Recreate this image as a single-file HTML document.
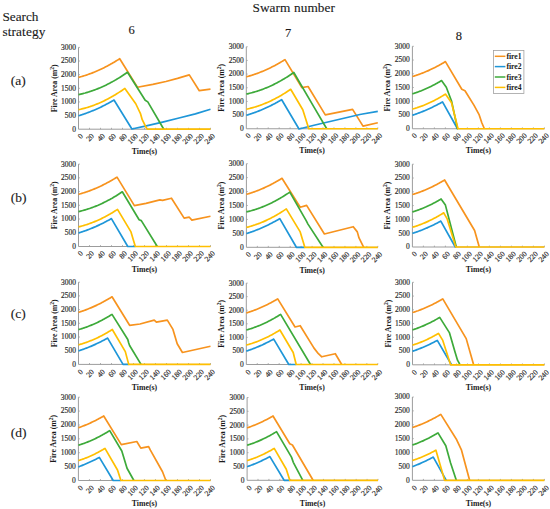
<!DOCTYPE html><html><head><meta charset="utf-8"><style>html,body{margin:0;padding:0;background:#fff;}svg{display:block;}text{font-family:"Liberation Serif", serif;}</style></head><body>
<svg width="550" height="509" viewBox="0 0 550 509">
<rect width="550" height="509" fill="#fff"/>
<text x="252.4" y="12.4" font-size="13.3" textLength="82.6" fill="#1a1a1a" stroke="#1a1a1a" stroke-width="0.12">Swarm number</text>
<text x="2.5" y="20.6" font-size="13.3" textLength="36" fill="#1a1a1a" stroke="#1a1a1a" stroke-width="0.12">Search</text>
<text x="2.5" y="35.5" font-size="13.3" textLength="42.8" fill="#1a1a1a" stroke="#1a1a1a" stroke-width="0.12">strategy</text>
<text x="131.7" y="34.1" font-size="12.5" text-anchor="middle" fill="#1a1a1a" stroke="#1a1a1a" stroke-width="0.12">6</text>
<text x="288.0" y="37.3" font-size="12.5" text-anchor="middle" fill="#1a1a1a" stroke="#1a1a1a" stroke-width="0.12">7</text>
<text x="458.9" y="40.4" font-size="12.5" text-anchor="middle" fill="#1a1a1a" stroke="#1a1a1a" stroke-width="0.12">8</text>
<text x="10.7" y="84.8" font-size="13.5" fill="#1a1a1a" stroke="#1a1a1a" stroke-width="0.12">(a)</text>
<text x="10.7" y="201.8" font-size="13.5" fill="#1a1a1a" stroke="#1a1a1a" stroke-width="0.12">(b)</text>
<text x="10.7" y="317.8" font-size="13.5" fill="#1a1a1a" stroke="#1a1a1a" stroke-width="0.12">(c)</text>
<text x="10.7" y="436.6" font-size="13.5" fill="#1a1a1a" stroke="#1a1a1a" stroke-width="0.12">(d)</text>
<path d="M78.50 47.40V129.20H210.50" fill="none" stroke="#9c9c9c" stroke-width="1"/>
<path d="M78.50 115.57h1.4 M78.50 101.93h1.4 M78.50 88.30h1.4 M78.50 74.67h1.4 M78.50 61.03h1.4 M78.50 47.40h1.4 M89.50 129.20v-1.4 M100.50 129.20v-1.4 M111.50 129.20v-1.4 M122.50 129.20v-1.4 M133.50 129.20v-1.4 M144.50 129.20v-1.4 M155.50 129.20v-1.4 M166.50 129.20v-1.4 M177.50 129.20v-1.4 M188.50 129.20v-1.4 M199.50 129.20v-1.4 M210.50 129.20v-1.4" fill="none" stroke="#9c9c9c" stroke-width="0.8"/>
<text x="75.90" y="131.60" font-size="7.5" fill="#2e2e2e" stroke="#2e2e2e" stroke-width="0.18" text-anchor="end">0</text>
<text x="75.90" y="117.97" font-size="7.5" fill="#2e2e2e" stroke="#2e2e2e" stroke-width="0.18" text-anchor="end">500</text>
<text x="75.90" y="104.33" font-size="7.5" fill="#2e2e2e" stroke="#2e2e2e" stroke-width="0.18" text-anchor="end">1000</text>
<text x="75.90" y="90.70" font-size="7.5" fill="#2e2e2e" stroke="#2e2e2e" stroke-width="0.18" text-anchor="end">1500</text>
<text x="75.90" y="77.07" font-size="7.5" fill="#2e2e2e" stroke="#2e2e2e" stroke-width="0.18" text-anchor="end">2000</text>
<text x="75.90" y="63.43" font-size="7.5" fill="#2e2e2e" stroke="#2e2e2e" stroke-width="0.18" text-anchor="end">2500</text>
<text x="75.90" y="49.80" font-size="7.5" fill="#2e2e2e" stroke="#2e2e2e" stroke-width="0.18" text-anchor="end">3000</text>
<text transform="translate(81.70 134.80) rotate(-45)" font-size="7.5" fill="#2e2e2e" stroke="#2e2e2e" stroke-width="0.18" text-anchor="end" dominant-baseline="central">0</text>
<text transform="translate(92.70 134.80) rotate(-45)" font-size="7.5" fill="#2e2e2e" stroke="#2e2e2e" stroke-width="0.18" text-anchor="end" dominant-baseline="central">20</text>
<text transform="translate(103.70 134.80) rotate(-45)" font-size="7.5" fill="#2e2e2e" stroke="#2e2e2e" stroke-width="0.18" text-anchor="end" dominant-baseline="central">40</text>
<text transform="translate(114.70 134.80) rotate(-45)" font-size="7.5" fill="#2e2e2e" stroke="#2e2e2e" stroke-width="0.18" text-anchor="end" dominant-baseline="central">60</text>
<text transform="translate(125.70 134.80) rotate(-45)" font-size="7.5" fill="#2e2e2e" stroke="#2e2e2e" stroke-width="0.18" text-anchor="end" dominant-baseline="central">80</text>
<text transform="translate(136.70 134.80) rotate(-45)" font-size="7.5" fill="#2e2e2e" stroke="#2e2e2e" stroke-width="0.18" text-anchor="end" dominant-baseline="central">100</text>
<text transform="translate(147.70 134.80) rotate(-45)" font-size="7.5" fill="#2e2e2e" stroke="#2e2e2e" stroke-width="0.18" text-anchor="end" dominant-baseline="central">120</text>
<text transform="translate(158.70 134.80) rotate(-45)" font-size="7.5" fill="#2e2e2e" stroke="#2e2e2e" stroke-width="0.18" text-anchor="end" dominant-baseline="central">140</text>
<text transform="translate(169.70 134.80) rotate(-45)" font-size="7.5" fill="#2e2e2e" stroke="#2e2e2e" stroke-width="0.18" text-anchor="end" dominant-baseline="central">160</text>
<text transform="translate(180.70 134.80) rotate(-45)" font-size="7.5" fill="#2e2e2e" stroke="#2e2e2e" stroke-width="0.18" text-anchor="end" dominant-baseline="central">180</text>
<text transform="translate(191.70 134.80) rotate(-45)" font-size="7.5" fill="#2e2e2e" stroke="#2e2e2e" stroke-width="0.18" text-anchor="end" dominant-baseline="central">200</text>
<text transform="translate(202.70 134.80) rotate(-45)" font-size="7.5" fill="#2e2e2e" stroke="#2e2e2e" stroke-width="0.18" text-anchor="end" dominant-baseline="central">220</text>
<text transform="translate(213.70 134.80) rotate(-45)" font-size="7.5" fill="#2e2e2e" stroke="#2e2e2e" stroke-width="0.18" text-anchor="end" dominant-baseline="central">240</text>
<text x="144.50" y="153.70" font-size="7.8" font-weight="bold" text-anchor="middle" fill="#1a1a1a">Time(s)</text>
<text transform="translate(56.50 88.30) rotate(-90)" font-size="7.8" font-weight="bold" text-anchor="middle" fill="#1a1a1a">Fire Area (m<tspan font-size="5.6" dy="-3">2</tspan><tspan dy="3">)</tspan></text>
<path d="M78.50 77.39 L79.61 77.10 L80.73 76.79 L81.84 76.47 L82.96 76.14 L84.07 75.80 L85.18 75.44 L86.30 75.08 L87.41 74.70 L88.52 74.31 L89.64 73.91 L90.75 73.50 L91.87 73.08 L92.98 72.64 L94.09 72.19 L95.21 71.74 L96.32 71.27 L97.43 70.78 L98.55 70.29 L99.66 69.79 L100.78 69.27 L101.89 68.74 L103.00 68.20 L104.12 67.65 L105.23 67.09 L106.34 66.51 L107.46 65.93 L108.57 65.33 L109.69 64.72 L110.80 64.10 L111.91 63.46 L113.03 62.82 L114.14 62.16 L115.25 61.49 L116.37 60.81 L117.48 60.12 L118.60 59.42 L119.71 58.71 L137.41 87.27 L152.80 84.34 L165.88 81.47 L177.53 78.41 L189.29 74.91 L199.29 90.71 L210.50 89.21" fill="none" stroke="#F7931E" stroke-width="1.7" stroke-linejoin="round"/>
<path d="M78.50 115.78 L79.61 115.45 L80.72 115.10 L81.83 114.74 L82.94 114.38 L84.05 114.00 L85.16 113.61 L86.26 113.22 L87.37 112.81 L88.48 112.39 L89.59 111.97 L90.70 111.53 L91.81 111.08 L92.92 110.63 L94.03 110.16 L95.14 109.68 L96.25 109.20 L97.36 108.70 L98.47 108.20 L99.57 107.68 L100.68 107.15 L101.79 106.62 L102.90 106.07 L104.01 105.51 L105.12 104.95 L106.23 104.37 L107.34 103.78 L108.45 103.19 L109.56 102.58 L110.67 101.97 L111.78 101.34 L112.89 100.70 L113.99 100.06 L131.91 128.97 L146.31 125.91 L162.58 122.11 L179.01 118.01 L195.39 113.91 L210.50 109.21" fill="none" stroke="#1E96D8" stroke-width="1.7" stroke-linejoin="round"/>
<path d="M78.50 94.57 L79.61 94.34 L80.73 94.09 L81.84 93.83 L82.96 93.56 L84.07 93.27 L85.18 92.98 L86.30 92.66 L87.41 92.34 L88.53 92.01 L89.64 91.66 L90.75 91.29 L91.87 90.92 L92.98 90.53 L94.10 90.13 L95.21 89.72 L96.32 89.30 L97.44 88.86 L98.55 88.41 L99.67 87.94 L100.78 87.47 L101.89 86.98 L103.01 86.48 L104.12 85.96 L105.24 85.43 L106.35 84.89 L107.46 84.34 L108.58 83.77 L109.69 83.20 L110.80 82.61 L111.92 82.00 L113.03 81.38 L114.15 80.76 L115.26 80.11 L116.37 79.46 L117.49 78.79 L118.60 78.11 L119.72 77.42 L120.83 76.71 L121.94 75.99 L123.06 75.26 L124.17 74.52 L125.29 73.76 L126.40 72.99 L127.51 72.21 L145.21 100.19 L147.79 101.89 L163.79 129.20" fill="none" stroke="#3DAA3A" stroke-width="1.7" stroke-linejoin="round"/>
<path d="M78.50 109.70 L79.60 109.47 L80.71 109.22 L81.81 108.95 L82.92 108.68 L84.02 108.39 L85.13 108.08 L86.23 107.77 L87.33 107.44 L88.44 107.09 L89.54 106.74 L90.65 106.37 L91.75 105.99 L92.85 105.59 L93.96 105.18 L95.06 104.76 L96.17 104.33 L97.27 103.88 L98.38 103.42 L99.48 102.94 L100.58 102.45 L101.69 101.95 L102.79 101.44 L103.90 100.91 L105.00 100.37 L106.10 99.82 L107.21 99.25 L108.31 98.67 L109.42 98.08 L110.52 97.47 L111.63 96.85 L112.73 96.22 L113.83 95.57 L114.94 94.91 L116.04 94.24 L117.15 93.56 L118.25 92.86 L119.36 92.14 L120.46 91.42 L121.56 90.68 L122.67 89.93 L123.77 89.16 L124.88 88.39 L135.76 103.75 L140.59 113.91 L142.24 119.73 L146.20 127.66 L147.57 129.20 L210.50 129.20" fill="none" stroke="#FFBF00" stroke-width="1.7" stroke-linejoin="round"/>
<path d="M246.30 46.75V128.75H377.80" fill="none" stroke="#9c9c9c" stroke-width="1"/>
<path d="M246.30 115.08h1.4 M246.30 101.42h1.4 M246.30 87.75h1.4 M246.30 74.08h1.4 M246.30 60.42h1.4 M246.30 46.75h1.4 M257.26 128.75v-1.4 M268.22 128.75v-1.4 M279.18 128.75v-1.4 M290.13 128.75v-1.4 M301.09 128.75v-1.4 M312.05 128.75v-1.4 M323.01 128.75v-1.4 M333.97 128.75v-1.4 M344.93 128.75v-1.4 M355.88 128.75v-1.4 M366.84 128.75v-1.4 M377.80 128.75v-1.4" fill="none" stroke="#9c9c9c" stroke-width="0.8"/>
<text x="243.70" y="131.15" font-size="7.5" fill="#2e2e2e" stroke="#2e2e2e" stroke-width="0.18" text-anchor="end">0</text>
<text x="243.70" y="117.48" font-size="7.5" fill="#2e2e2e" stroke="#2e2e2e" stroke-width="0.18" text-anchor="end">500</text>
<text x="243.70" y="103.82" font-size="7.5" fill="#2e2e2e" stroke="#2e2e2e" stroke-width="0.18" text-anchor="end">1000</text>
<text x="243.70" y="90.15" font-size="7.5" fill="#2e2e2e" stroke="#2e2e2e" stroke-width="0.18" text-anchor="end">1500</text>
<text x="243.70" y="76.48" font-size="7.5" fill="#2e2e2e" stroke="#2e2e2e" stroke-width="0.18" text-anchor="end">2000</text>
<text x="243.70" y="62.82" font-size="7.5" fill="#2e2e2e" stroke="#2e2e2e" stroke-width="0.18" text-anchor="end">2500</text>
<text x="243.70" y="49.15" font-size="7.5" fill="#2e2e2e" stroke="#2e2e2e" stroke-width="0.18" text-anchor="end">3000</text>
<text transform="translate(249.50 134.35) rotate(-45)" font-size="7.5" fill="#2e2e2e" stroke="#2e2e2e" stroke-width="0.18" text-anchor="end" dominant-baseline="central">0</text>
<text transform="translate(260.46 134.35) rotate(-45)" font-size="7.5" fill="#2e2e2e" stroke="#2e2e2e" stroke-width="0.18" text-anchor="end" dominant-baseline="central">20</text>
<text transform="translate(271.42 134.35) rotate(-45)" font-size="7.5" fill="#2e2e2e" stroke="#2e2e2e" stroke-width="0.18" text-anchor="end" dominant-baseline="central">40</text>
<text transform="translate(282.38 134.35) rotate(-45)" font-size="7.5" fill="#2e2e2e" stroke="#2e2e2e" stroke-width="0.18" text-anchor="end" dominant-baseline="central">60</text>
<text transform="translate(293.33 134.35) rotate(-45)" font-size="7.5" fill="#2e2e2e" stroke="#2e2e2e" stroke-width="0.18" text-anchor="end" dominant-baseline="central">80</text>
<text transform="translate(304.29 134.35) rotate(-45)" font-size="7.5" fill="#2e2e2e" stroke="#2e2e2e" stroke-width="0.18" text-anchor="end" dominant-baseline="central">100</text>
<text transform="translate(315.25 134.35) rotate(-45)" font-size="7.5" fill="#2e2e2e" stroke="#2e2e2e" stroke-width="0.18" text-anchor="end" dominant-baseline="central">120</text>
<text transform="translate(326.21 134.35) rotate(-45)" font-size="7.5" fill="#2e2e2e" stroke="#2e2e2e" stroke-width="0.18" text-anchor="end" dominant-baseline="central">140</text>
<text transform="translate(337.17 134.35) rotate(-45)" font-size="7.5" fill="#2e2e2e" stroke="#2e2e2e" stroke-width="0.18" text-anchor="end" dominant-baseline="central">160</text>
<text transform="translate(348.12 134.35) rotate(-45)" font-size="7.5" fill="#2e2e2e" stroke="#2e2e2e" stroke-width="0.18" text-anchor="end" dominant-baseline="central">180</text>
<text transform="translate(359.08 134.35) rotate(-45)" font-size="7.5" fill="#2e2e2e" stroke="#2e2e2e" stroke-width="0.18" text-anchor="end" dominant-baseline="central">200</text>
<text transform="translate(370.04 134.35) rotate(-45)" font-size="7.5" fill="#2e2e2e" stroke="#2e2e2e" stroke-width="0.18" text-anchor="end" dominant-baseline="central">220</text>
<text transform="translate(381.00 134.35) rotate(-45)" font-size="7.5" fill="#2e2e2e" stroke="#2e2e2e" stroke-width="0.18" text-anchor="end" dominant-baseline="central">240</text>
<text x="312.05" y="153.25" font-size="7.8" font-weight="bold" text-anchor="middle" fill="#1a1a1a">Time(s)</text>
<text transform="translate(224.30 87.75) rotate(-90)" font-size="7.8" font-weight="bold" text-anchor="middle" fill="#1a1a1a">Fire Area (m<tspan font-size="5.6" dy="-3">2</tspan><tspan dy="3">)</tspan></text>
<path d="M246.30 76.82 L247.41 76.52 L248.51 76.22 L249.62 75.90 L250.72 75.57 L251.83 75.23 L252.93 74.87 L254.04 74.51 L255.14 74.13 L256.25 73.75 L257.35 73.35 L258.46 72.94 L259.56 72.51 L260.67 72.08 L261.78 71.63 L262.88 71.18 L263.99 70.71 L265.09 70.23 L266.20 69.74 L267.30 69.23 L268.41 68.72 L269.51 68.19 L270.62 67.65 L271.72 67.11 L272.83 66.54 L273.94 65.97 L275.04 65.39 L276.15 64.79 L277.25 64.18 L278.36 63.57 L279.46 62.93 L280.57 62.29 L281.67 61.64 L282.78 60.97 L283.88 60.30 L284.99 59.61 L301.96 87.70 L308.09 86.50 L325.29 114.90 L352.61 109.40 L363.01 126.10 L377.80 122.71" fill="none" stroke="#F7931E" stroke-width="1.7" stroke-linejoin="round"/>
<path d="M246.30 115.30 L247.41 114.97 L248.51 114.63 L249.62 114.28 L250.73 113.91 L251.83 113.54 L252.94 113.16 L254.04 112.77 L255.15 112.36 L256.26 111.95 L257.36 111.53 L258.47 111.10 L259.58 110.66 L260.68 110.20 L261.79 109.74 L262.90 109.27 L264.00 108.79 L265.11 108.29 L266.21 107.79 L267.32 107.28 L268.43 106.76 L269.53 106.22 L270.64 105.68 L271.75 105.13 L272.85 104.56 L273.96 103.99 L275.07 103.41 L276.17 102.82 L277.28 102.21 L278.39 101.60 L279.49 100.98 L280.60 100.34 L281.70 99.70 L299.01 128.97 L314.01 125.20 L359.89 114.51 L361.20 114.27 L377.80 111.40" fill="none" stroke="#1E96D8" stroke-width="1.7" stroke-linejoin="round"/>
<path d="M246.30 94.04 L247.40 93.80 L248.51 93.55 L249.61 93.29 L250.72 93.02 L251.82 92.74 L252.93 92.44 L254.03 92.13 L255.14 91.80 L256.24 91.47 L257.35 91.12 L258.45 90.76 L259.56 90.38 L260.66 90.00 L261.77 89.60 L262.87 89.19 L263.98 88.76 L265.08 88.32 L266.19 87.87 L267.29 87.41 L268.39 86.94 L269.50 86.45 L270.60 85.95 L271.71 85.44 L272.81 84.91 L273.92 84.37 L275.02 83.82 L276.13 83.26 L277.23 82.68 L278.34 82.09 L279.44 81.49 L280.55 80.87 L281.65 80.25 L282.76 79.61 L283.86 78.95 L284.97 78.29 L286.07 77.61 L287.18 76.92 L288.28 76.21 L289.39 75.50 L290.49 74.77 L291.59 74.03 L292.70 73.27 L293.80 72.51 L314.01 107.11 L326.71 128.75" fill="none" stroke="#3DAA3A" stroke-width="1.7" stroke-linejoin="round"/>
<path d="M246.30 109.21 L247.41 108.97 L248.52 108.72 L249.63 108.46 L250.74 108.18 L251.85 107.89 L252.96 107.59 L254.07 107.27 L255.18 106.94 L256.29 106.60 L257.40 106.24 L258.51 105.87 L259.61 105.49 L260.72 105.09 L261.83 104.68 L262.94 104.26 L264.05 103.82 L265.16 103.37 L266.27 102.91 L267.38 102.43 L268.49 101.94 L269.60 101.43 L270.71 100.92 L271.82 100.38 L272.93 99.84 L274.04 99.28 L275.15 98.71 L276.26 98.12 L277.37 97.52 L278.48 96.91 L279.59 96.29 L280.70 95.65 L281.81 94.99 L282.92 94.33 L284.03 93.65 L285.14 92.96 L286.24 92.25 L287.35 91.53 L288.46 90.80 L289.57 90.05 L290.68 89.29 L302.78 109.70 L308.81 128.75 L377.80 128.75" fill="none" stroke="#FFBF00" stroke-width="1.7" stroke-linejoin="round"/>
<path d="M412.40 46.30V128.75H544.40" fill="none" stroke="#9c9c9c" stroke-width="1"/>
<path d="M412.40 115.01h1.4 M412.40 101.27h1.4 M412.40 87.53h1.4 M412.40 73.78h1.4 M412.40 60.04h1.4 M412.40 46.30h1.4 M423.40 128.75v-1.4 M434.40 128.75v-1.4 M445.40 128.75v-1.4 M456.40 128.75v-1.4 M467.40 128.75v-1.4 M478.40 128.75v-1.4 M489.40 128.75v-1.4 M500.40 128.75v-1.4 M511.40 128.75v-1.4 M522.40 128.75v-1.4 M533.40 128.75v-1.4 M544.40 128.75v-1.4" fill="none" stroke="#9c9c9c" stroke-width="0.8"/>
<text x="409.80" y="131.15" font-size="7.5" fill="#2e2e2e" stroke="#2e2e2e" stroke-width="0.18" text-anchor="end">0</text>
<text x="409.80" y="117.41" font-size="7.5" fill="#2e2e2e" stroke="#2e2e2e" stroke-width="0.18" text-anchor="end">500</text>
<text x="409.80" y="103.67" font-size="7.5" fill="#2e2e2e" stroke="#2e2e2e" stroke-width="0.18" text-anchor="end">1000</text>
<text x="409.80" y="89.93" font-size="7.5" fill="#2e2e2e" stroke="#2e2e2e" stroke-width="0.18" text-anchor="end">1500</text>
<text x="409.80" y="76.18" font-size="7.5" fill="#2e2e2e" stroke="#2e2e2e" stroke-width="0.18" text-anchor="end">2000</text>
<text x="409.80" y="62.44" font-size="7.5" fill="#2e2e2e" stroke="#2e2e2e" stroke-width="0.18" text-anchor="end">2500</text>
<text x="409.80" y="48.70" font-size="7.5" fill="#2e2e2e" stroke="#2e2e2e" stroke-width="0.18" text-anchor="end">3000</text>
<text transform="translate(415.60 134.35) rotate(-45)" font-size="7.5" fill="#2e2e2e" stroke="#2e2e2e" stroke-width="0.18" text-anchor="end" dominant-baseline="central">0</text>
<text transform="translate(426.60 134.35) rotate(-45)" font-size="7.5" fill="#2e2e2e" stroke="#2e2e2e" stroke-width="0.18" text-anchor="end" dominant-baseline="central">20</text>
<text transform="translate(437.60 134.35) rotate(-45)" font-size="7.5" fill="#2e2e2e" stroke="#2e2e2e" stroke-width="0.18" text-anchor="end" dominant-baseline="central">40</text>
<text transform="translate(448.60 134.35) rotate(-45)" font-size="7.5" fill="#2e2e2e" stroke="#2e2e2e" stroke-width="0.18" text-anchor="end" dominant-baseline="central">60</text>
<text transform="translate(459.60 134.35) rotate(-45)" font-size="7.5" fill="#2e2e2e" stroke="#2e2e2e" stroke-width="0.18" text-anchor="end" dominant-baseline="central">80</text>
<text transform="translate(470.60 134.35) rotate(-45)" font-size="7.5" fill="#2e2e2e" stroke="#2e2e2e" stroke-width="0.18" text-anchor="end" dominant-baseline="central">100</text>
<text transform="translate(481.60 134.35) rotate(-45)" font-size="7.5" fill="#2e2e2e" stroke="#2e2e2e" stroke-width="0.18" text-anchor="end" dominant-baseline="central">120</text>
<text transform="translate(492.60 134.35) rotate(-45)" font-size="7.5" fill="#2e2e2e" stroke="#2e2e2e" stroke-width="0.18" text-anchor="end" dominant-baseline="central">140</text>
<text transform="translate(503.60 134.35) rotate(-45)" font-size="7.5" fill="#2e2e2e" stroke="#2e2e2e" stroke-width="0.18" text-anchor="end" dominant-baseline="central">160</text>
<text transform="translate(514.60 134.35) rotate(-45)" font-size="7.5" fill="#2e2e2e" stroke="#2e2e2e" stroke-width="0.18" text-anchor="end" dominant-baseline="central">180</text>
<text transform="translate(525.60 134.35) rotate(-45)" font-size="7.5" fill="#2e2e2e" stroke="#2e2e2e" stroke-width="0.18" text-anchor="end" dominant-baseline="central">200</text>
<text transform="translate(536.60 134.35) rotate(-45)" font-size="7.5" fill="#2e2e2e" stroke="#2e2e2e" stroke-width="0.18" text-anchor="end" dominant-baseline="central">220</text>
<text transform="translate(547.60 134.35) rotate(-45)" font-size="7.5" fill="#2e2e2e" stroke="#2e2e2e" stroke-width="0.18" text-anchor="end" dominant-baseline="central">240</text>
<text x="478.40" y="153.25" font-size="7.8" font-weight="bold" text-anchor="middle" fill="#1a1a1a">Time(s)</text>
<text transform="translate(390.40 87.53) rotate(-90)" font-size="7.8" font-weight="bold" text-anchor="middle" fill="#1a1a1a">Fire Area (m<tspan font-size="5.6" dy="-3">2</tspan><tspan dy="3">)</tspan></text>
<path d="M412.40 76.53 L413.50 76.20 L414.60 75.86 L415.70 75.50 L416.80 75.14 L417.90 74.76 L419.00 74.37 L420.10 73.97 L421.21 73.56 L422.31 73.14 L423.41 72.70 L424.51 72.25 L425.61 71.80 L426.71 71.33 L427.81 70.85 L428.91 70.36 L430.01 69.85 L431.11 69.34 L432.21 68.81 L433.31 68.27 L434.41 67.72 L435.51 67.16 L436.62 66.59 L437.72 66.01 L438.82 65.41 L439.92 64.81 L441.02 64.19 L442.12 63.56 L443.22 62.92 L444.32 62.27 L445.42 61.60 L461.80 89.29 L464.99 90.71 L474.06 105.41 L479.22 114.90 L481.80 122.71 L484.39 128.75" fill="none" stroke="#F7931E" stroke-width="1.7" stroke-linejoin="round"/>
<path d="M412.40 115.23 L413.52 114.87 L414.63 114.49 L415.75 114.11 L416.86 113.72 L417.98 113.32 L419.09 112.90 L420.21 112.48 L421.32 112.05 L422.44 111.61 L423.55 111.15 L424.67 110.69 L425.78 110.21 L426.90 109.73 L428.01 109.24 L429.13 108.73 L430.24 108.22 L431.36 107.69 L432.47 107.16 L433.59 106.61 L434.70 106.06 L435.82 105.49 L436.93 104.92 L438.05 104.33 L439.16 103.74 L440.28 103.13 L441.39 102.51 L442.51 101.89 L457.51 128.75" fill="none" stroke="#1E96D8" stroke-width="1.7" stroke-linejoin="round"/>
<path d="M412.40 93.85 L413.52 93.50 L414.64 93.14 L415.76 92.77 L416.88 92.38 L418.00 91.98 L419.12 91.57 L420.24 91.14 L421.36 90.71 L422.48 90.25 L423.60 89.79 L424.72 89.31 L425.84 88.82 L426.96 88.32 L428.08 87.80 L429.20 87.27 L430.32 86.73 L431.44 86.18 L432.56 85.61 L433.68 85.03 L434.80 84.43 L435.92 83.83 L437.04 83.21 L438.16 82.57 L439.28 81.93 L440.40 81.27 L441.52 80.60 L446.30 87.21 L451.52 101.01 L457.51 128.75 L458.01 128.75" fill="none" stroke="#3DAA3A" stroke-width="1.7" stroke-linejoin="round"/>
<path d="M412.40 109.10 L413.50 108.79 L414.60 108.47 L415.70 108.13 L416.80 107.79 L417.90 107.42 L419.00 107.05 L420.10 106.66 L421.21 106.26 L422.31 105.85 L423.41 105.42 L424.51 104.98 L425.61 104.53 L426.71 104.06 L427.81 103.58 L428.91 103.09 L430.01 102.58 L431.11 102.06 L432.21 101.53 L433.31 100.98 L434.41 100.42 L435.51 99.85 L436.62 99.26 L437.72 98.66 L438.82 98.05 L439.92 97.42 L441.02 96.79 L442.12 96.13 L443.22 95.47 L444.32 94.79 L445.42 94.10 L451.52 102.79 L458.01 128.75 L544.40 128.75" fill="none" stroke="#FFBF00" stroke-width="1.7" stroke-linejoin="round"/>
<path d="M78.50 164.10V246.50H210.50" fill="none" stroke="#9c9c9c" stroke-width="1"/>
<path d="M78.50 232.77h1.4 M78.50 219.03h1.4 M78.50 205.30h1.4 M78.50 191.57h1.4 M78.50 177.83h1.4 M78.50 164.10h1.4 M89.50 246.50v-1.4 M100.50 246.50v-1.4 M111.50 246.50v-1.4 M122.50 246.50v-1.4 M133.50 246.50v-1.4 M144.50 246.50v-1.4 M155.50 246.50v-1.4 M166.50 246.50v-1.4 M177.50 246.50v-1.4 M188.50 246.50v-1.4 M199.50 246.50v-1.4 M210.50 246.50v-1.4" fill="none" stroke="#9c9c9c" stroke-width="0.8"/>
<text x="75.90" y="248.90" font-size="7.5" fill="#2e2e2e" stroke="#2e2e2e" stroke-width="0.18" text-anchor="end">0</text>
<text x="75.90" y="235.17" font-size="7.5" fill="#2e2e2e" stroke="#2e2e2e" stroke-width="0.18" text-anchor="end">500</text>
<text x="75.90" y="221.43" font-size="7.5" fill="#2e2e2e" stroke="#2e2e2e" stroke-width="0.18" text-anchor="end">1000</text>
<text x="75.90" y="207.70" font-size="7.5" fill="#2e2e2e" stroke="#2e2e2e" stroke-width="0.18" text-anchor="end">1500</text>
<text x="75.90" y="193.97" font-size="7.5" fill="#2e2e2e" stroke="#2e2e2e" stroke-width="0.18" text-anchor="end">2000</text>
<text x="75.90" y="180.23" font-size="7.5" fill="#2e2e2e" stroke="#2e2e2e" stroke-width="0.18" text-anchor="end">2500</text>
<text x="75.90" y="166.50" font-size="7.5" fill="#2e2e2e" stroke="#2e2e2e" stroke-width="0.18" text-anchor="end">3000</text>
<text transform="translate(81.70 252.20) rotate(-45)" font-size="7.5" fill="#2e2e2e" stroke="#2e2e2e" stroke-width="0.18" text-anchor="end" dominant-baseline="central">0</text>
<text transform="translate(92.70 252.20) rotate(-45)" font-size="7.5" fill="#2e2e2e" stroke="#2e2e2e" stroke-width="0.18" text-anchor="end" dominant-baseline="central">20</text>
<text transform="translate(103.70 252.20) rotate(-45)" font-size="7.5" fill="#2e2e2e" stroke="#2e2e2e" stroke-width="0.18" text-anchor="end" dominant-baseline="central">40</text>
<text transform="translate(114.70 252.20) rotate(-45)" font-size="7.5" fill="#2e2e2e" stroke="#2e2e2e" stroke-width="0.18" text-anchor="end" dominant-baseline="central">60</text>
<text transform="translate(125.70 252.20) rotate(-45)" font-size="7.5" fill="#2e2e2e" stroke="#2e2e2e" stroke-width="0.18" text-anchor="end" dominant-baseline="central">80</text>
<text transform="translate(136.70 252.20) rotate(-45)" font-size="7.5" fill="#2e2e2e" stroke="#2e2e2e" stroke-width="0.18" text-anchor="end" dominant-baseline="central">100</text>
<text transform="translate(147.70 252.20) rotate(-45)" font-size="7.5" fill="#2e2e2e" stroke="#2e2e2e" stroke-width="0.18" text-anchor="end" dominant-baseline="central">120</text>
<text transform="translate(158.70 252.20) rotate(-45)" font-size="7.5" fill="#2e2e2e" stroke="#2e2e2e" stroke-width="0.18" text-anchor="end" dominant-baseline="central">140</text>
<text transform="translate(169.70 252.20) rotate(-45)" font-size="7.5" fill="#2e2e2e" stroke="#2e2e2e" stroke-width="0.18" text-anchor="end" dominant-baseline="central">160</text>
<text transform="translate(180.70 252.20) rotate(-45)" font-size="7.5" fill="#2e2e2e" stroke="#2e2e2e" stroke-width="0.18" text-anchor="end" dominant-baseline="central">180</text>
<text transform="translate(191.70 252.20) rotate(-45)" font-size="7.5" fill="#2e2e2e" stroke="#2e2e2e" stroke-width="0.18" text-anchor="end" dominant-baseline="central">200</text>
<text transform="translate(202.70 252.20) rotate(-45)" font-size="7.5" fill="#2e2e2e" stroke="#2e2e2e" stroke-width="0.18" text-anchor="end" dominant-baseline="central">220</text>
<text transform="translate(213.70 252.20) rotate(-45)" font-size="7.5" fill="#2e2e2e" stroke="#2e2e2e" stroke-width="0.18" text-anchor="end" dominant-baseline="central">240</text>
<text x="144.50" y="271.80" font-size="7.8" font-weight="bold" text-anchor="middle" fill="#1a1a1a">Time(s)</text>
<text transform="translate(56.50 205.30) rotate(-90)" font-size="7.8" font-weight="bold" text-anchor="middle" fill="#1a1a1a">Fire Area (m<tspan font-size="5.6" dy="-3">2</tspan><tspan dy="3">)</tspan></text>
<path d="M78.50 194.31 L79.60 194.02 L80.70 193.71 L81.80 193.39 L82.90 193.06 L84.00 192.71 L85.10 192.36 L86.20 191.99 L87.30 191.62 L88.40 191.23 L89.50 190.83 L90.61 190.42 L91.71 189.99 L92.81 189.56 L93.91 189.11 L95.01 188.66 L96.11 188.19 L97.21 187.71 L98.31 187.22 L99.41 186.71 L100.51 186.20 L101.61 185.67 L102.71 185.14 L103.81 184.59 L104.91 184.03 L106.01 183.46 L107.11 182.87 L108.21 182.28 L109.31 181.67 L110.41 181.06 L111.51 180.43 L112.62 179.79 L113.72 179.14 L114.82 178.47 L115.92 177.80 L117.02 177.11 L134.38 205.61 L145.98 203.31 L159.89 199.91 L162.52 200.40 L171.48 198.21 L184.12 218.09 L189.29 217.19 L191.87 220.09 L210.50 216.23" fill="none" stroke="#F7931E" stroke-width="1.7" stroke-linejoin="round"/>
<path d="M78.50 232.99 L79.63 232.64 L80.77 232.28 L81.90 231.91 L83.04 231.53 L84.17 231.14 L85.31 230.74 L86.44 230.33 L87.58 229.91 L88.71 229.47 L89.85 229.03 L90.98 228.58 L92.12 228.11 L93.25 227.64 L94.39 227.15 L95.52 226.66 L96.66 226.15 L97.79 225.63 L98.93 225.11 L100.06 224.57 L101.20 224.02 L102.33 223.46 L103.47 222.89 L104.60 222.31 L105.74 221.72 L106.87 221.12 L108.01 220.51 L109.14 219.89 L110.28 219.26 L111.41 218.61 L127.79 246.50 L135.32 246.50" fill="none" stroke="#1E96D8" stroke-width="1.7" stroke-linejoin="round"/>
<path d="M78.50 211.62 L79.62 211.36 L80.75 211.08 L81.87 210.80 L82.99 210.50 L84.11 210.19 L85.24 209.86 L86.36 209.52 L87.48 209.17 L88.61 208.81 L89.73 208.43 L90.85 208.04 L91.97 207.64 L93.10 207.22 L94.22 206.79 L95.34 206.35 L96.47 205.89 L97.59 205.43 L98.71 204.94 L99.84 204.45 L100.96 203.94 L102.08 203.42 L103.20 202.89 L104.33 202.34 L105.45 201.78 L106.57 201.21 L107.70 200.62 L108.82 200.02 L109.94 199.41 L111.06 198.78 L112.19 198.15 L113.31 197.49 L114.43 196.83 L115.56 196.15 L116.68 195.46 L117.80 194.76 L118.92 194.04 L120.05 193.31 L121.17 192.57 L122.29 191.81 L139.11 219.79 L141.31 220.59 L157.30 246.50" fill="none" stroke="#3DAA3A" stroke-width="1.7" stroke-linejoin="round"/>
<path d="M78.50 226.86 L79.61 226.59 L80.73 226.31 L81.84 226.01 L82.96 225.70 L84.07 225.38 L85.19 225.05 L86.30 224.70 L87.42 224.33 L88.53 223.95 L89.65 223.56 L90.76 223.16 L91.88 222.74 L92.99 222.31 L94.10 221.87 L95.22 221.41 L96.33 220.94 L97.45 220.45 L98.56 219.95 L99.68 219.44 L100.79 218.91 L101.91 218.37 L103.02 217.82 L104.14 217.25 L105.25 216.67 L106.37 216.08 L107.48 215.47 L108.59 214.85 L109.71 214.22 L110.82 213.57 L111.94 212.91 L113.05 212.23 L114.17 211.54 L115.28 210.84 L116.40 210.13 L117.51 209.40 L130.98 231.89 L135.32 246.50 L210.50 246.50" fill="none" stroke="#FFBF00" stroke-width="1.7" stroke-linejoin="round"/>
<path d="M246.40 163.70V247.30H377.80" fill="none" stroke="#9c9c9c" stroke-width="1"/>
<path d="M246.40 233.37h1.4 M246.40 219.43h1.4 M246.40 205.50h1.4 M246.40 191.57h1.4 M246.40 177.63h1.4 M246.40 163.70h1.4 M257.35 247.30v-1.4 M268.30 247.30v-1.4 M279.25 247.30v-1.4 M290.20 247.30v-1.4 M301.15 247.30v-1.4 M312.10 247.30v-1.4 M323.05 247.30v-1.4 M334.00 247.30v-1.4 M344.95 247.30v-1.4 M355.90 247.30v-1.4 M366.85 247.30v-1.4 M377.80 247.30v-1.4" fill="none" stroke="#9c9c9c" stroke-width="0.8"/>
<text x="243.80" y="249.70" font-size="7.5" fill="#2e2e2e" stroke="#2e2e2e" stroke-width="0.18" text-anchor="end">0</text>
<text x="243.80" y="235.77" font-size="7.5" fill="#2e2e2e" stroke="#2e2e2e" stroke-width="0.18" text-anchor="end">500</text>
<text x="243.80" y="221.83" font-size="7.5" fill="#2e2e2e" stroke="#2e2e2e" stroke-width="0.18" text-anchor="end">1000</text>
<text x="243.80" y="207.90" font-size="7.5" fill="#2e2e2e" stroke="#2e2e2e" stroke-width="0.18" text-anchor="end">1500</text>
<text x="243.80" y="193.97" font-size="7.5" fill="#2e2e2e" stroke="#2e2e2e" stroke-width="0.18" text-anchor="end">2000</text>
<text x="243.80" y="180.03" font-size="7.5" fill="#2e2e2e" stroke="#2e2e2e" stroke-width="0.18" text-anchor="end">2500</text>
<text x="243.80" y="166.10" font-size="7.5" fill="#2e2e2e" stroke="#2e2e2e" stroke-width="0.18" text-anchor="end">3000</text>
<text transform="translate(249.60 253.00) rotate(-45)" font-size="7.5" fill="#2e2e2e" stroke="#2e2e2e" stroke-width="0.18" text-anchor="end" dominant-baseline="central">0</text>
<text transform="translate(260.55 253.00) rotate(-45)" font-size="7.5" fill="#2e2e2e" stroke="#2e2e2e" stroke-width="0.18" text-anchor="end" dominant-baseline="central">20</text>
<text transform="translate(271.50 253.00) rotate(-45)" font-size="7.5" fill="#2e2e2e" stroke="#2e2e2e" stroke-width="0.18" text-anchor="end" dominant-baseline="central">40</text>
<text transform="translate(282.45 253.00) rotate(-45)" font-size="7.5" fill="#2e2e2e" stroke="#2e2e2e" stroke-width="0.18" text-anchor="end" dominant-baseline="central">60</text>
<text transform="translate(293.40 253.00) rotate(-45)" font-size="7.5" fill="#2e2e2e" stroke="#2e2e2e" stroke-width="0.18" text-anchor="end" dominant-baseline="central">80</text>
<text transform="translate(304.35 253.00) rotate(-45)" font-size="7.5" fill="#2e2e2e" stroke="#2e2e2e" stroke-width="0.18" text-anchor="end" dominant-baseline="central">100</text>
<text transform="translate(315.30 253.00) rotate(-45)" font-size="7.5" fill="#2e2e2e" stroke="#2e2e2e" stroke-width="0.18" text-anchor="end" dominant-baseline="central">120</text>
<text transform="translate(326.25 253.00) rotate(-45)" font-size="7.5" fill="#2e2e2e" stroke="#2e2e2e" stroke-width="0.18" text-anchor="end" dominant-baseline="central">140</text>
<text transform="translate(337.20 253.00) rotate(-45)" font-size="7.5" fill="#2e2e2e" stroke="#2e2e2e" stroke-width="0.18" text-anchor="end" dominant-baseline="central">160</text>
<text transform="translate(348.15 253.00) rotate(-45)" font-size="7.5" fill="#2e2e2e" stroke="#2e2e2e" stroke-width="0.18" text-anchor="end" dominant-baseline="central">180</text>
<text transform="translate(359.10 253.00) rotate(-45)" font-size="7.5" fill="#2e2e2e" stroke="#2e2e2e" stroke-width="0.18" text-anchor="end" dominant-baseline="central">200</text>
<text transform="translate(370.05 253.00) rotate(-45)" font-size="7.5" fill="#2e2e2e" stroke="#2e2e2e" stroke-width="0.18" text-anchor="end" dominant-baseline="central">220</text>
<text transform="translate(381.00 253.00) rotate(-45)" font-size="7.5" fill="#2e2e2e" stroke="#2e2e2e" stroke-width="0.18" text-anchor="end" dominant-baseline="central">240</text>
<text x="312.10" y="272.60" font-size="7.8" font-weight="bold" text-anchor="middle" fill="#1a1a1a">Time(s)</text>
<text transform="translate(224.40 205.50) rotate(-90)" font-size="7.8" font-weight="bold" text-anchor="middle" fill="#1a1a1a">Fire Area (m<tspan font-size="5.6" dy="-3">2</tspan><tspan dy="3">)</tspan></text>
<path d="M246.40 194.35 L247.51 194.04 L248.62 193.71 L249.74 193.37 L250.85 193.01 L251.96 192.65 L253.07 192.27 L254.18 191.89 L255.29 191.49 L256.41 191.07 L257.52 190.65 L258.63 190.21 L259.74 189.76 L260.85 189.30 L261.97 188.83 L263.08 188.35 L264.19 187.85 L265.30 187.34 L266.41 186.82 L267.52 186.29 L268.64 185.75 L269.75 185.19 L270.86 184.63 L271.97 184.05 L273.08 183.45 L274.20 182.85 L275.31 182.24 L276.42 181.61 L277.53 180.97 L278.64 180.32 L279.75 179.65 L280.87 178.98 L281.98 178.29 L300.21 207.31 L306.62 205.39 L324.41 234.00 L353.26 226.71 L357.31 231.89 L359.01 237.90 L363.72 247.30" fill="none" stroke="#F7931E" stroke-width="1.7" stroke-linejoin="round"/>
<path d="M246.40 233.59 L247.51 233.24 L248.63 232.88 L249.74 232.51 L250.85 232.13 L251.96 231.74 L253.08 231.34 L254.19 230.93 L255.30 230.51 L256.42 230.08 L257.53 229.63 L258.64 229.18 L259.76 228.72 L260.87 228.25 L261.98 227.76 L263.09 227.27 L264.21 226.76 L265.32 226.25 L266.43 225.72 L267.55 225.19 L268.66 224.64 L269.77 224.09 L270.88 223.52 L272.00 222.94 L273.11 222.35 L274.22 221.76 L275.34 221.15 L276.45 220.53 L277.56 219.90 L278.68 219.26 L279.79 218.61 L296.38 247.30 L304.81 247.30" fill="none" stroke="#1E96D8" stroke-width="1.7" stroke-linejoin="round"/>
<path d="M246.40 211.91 L247.51 211.65 L248.63 211.38 L249.74 211.09 L250.85 210.80 L251.97 210.48 L253.08 210.16 L254.19 209.82 L255.30 209.47 L256.42 209.11 L257.53 208.73 L258.64 208.34 L259.76 207.94 L260.87 207.52 L261.98 207.09 L263.10 206.65 L264.21 206.19 L265.32 205.72 L266.43 205.24 L267.55 204.75 L268.66 204.24 L269.77 203.72 L270.89 203.18 L272.00 202.64 L273.11 202.08 L274.23 201.50 L275.34 200.91 L276.45 200.31 L277.56 199.70 L278.68 199.07 L279.79 198.43 L280.90 197.78 L282.02 197.12 L283.13 196.44 L284.24 195.75 L285.36 195.04 L286.47 194.32 L287.58 193.59 L288.69 192.85 L289.81 192.09 L306.18 220.59 L307.98 224.10 L323.04 247.30" fill="none" stroke="#3DAA3A" stroke-width="1.7" stroke-linejoin="round"/>
<path d="M246.40 227.38 L247.51 227.10 L248.62 226.82 L249.73 226.51 L250.83 226.20 L251.94 225.87 L253.05 225.53 L254.16 225.17 L255.27 224.81 L256.38 224.42 L257.48 224.03 L258.59 223.62 L259.70 223.19 L260.81 222.75 L261.92 222.30 L263.03 221.84 L264.13 221.36 L265.24 220.87 L266.35 220.36 L267.46 219.84 L268.57 219.31 L269.68 218.76 L270.79 218.20 L271.89 217.62 L273.00 217.03 L274.11 216.43 L275.22 215.82 L276.33 215.19 L277.44 214.54 L278.54 213.89 L279.65 213.22 L280.76 212.53 L281.87 211.83 L282.98 211.12 L284.09 210.40 L285.19 209.66 L286.30 208.90 L300.21 231.89 L304.81 247.30 L377.80 247.30" fill="none" stroke="#FFBF00" stroke-width="1.7" stroke-linejoin="round"/>
<path d="M412.40 164.20V247.00H544.40" fill="none" stroke="#9c9c9c" stroke-width="1"/>
<path d="M412.40 233.20h1.4 M412.40 219.40h1.4 M412.40 205.60h1.4 M412.40 191.80h1.4 M412.40 178.00h1.4 M412.40 164.20h1.4 M423.40 247.00v-1.4 M434.40 247.00v-1.4 M445.40 247.00v-1.4 M456.40 247.00v-1.4 M467.40 247.00v-1.4 M478.40 247.00v-1.4 M489.40 247.00v-1.4 M500.40 247.00v-1.4 M511.40 247.00v-1.4 M522.40 247.00v-1.4 M533.40 247.00v-1.4 M544.40 247.00v-1.4" fill="none" stroke="#9c9c9c" stroke-width="0.8"/>
<text x="409.80" y="249.40" font-size="7.5" fill="#2e2e2e" stroke="#2e2e2e" stroke-width="0.18" text-anchor="end">0</text>
<text x="409.80" y="235.60" font-size="7.5" fill="#2e2e2e" stroke="#2e2e2e" stroke-width="0.18" text-anchor="end">500</text>
<text x="409.80" y="221.80" font-size="7.5" fill="#2e2e2e" stroke="#2e2e2e" stroke-width="0.18" text-anchor="end">1000</text>
<text x="409.80" y="208.00" font-size="7.5" fill="#2e2e2e" stroke="#2e2e2e" stroke-width="0.18" text-anchor="end">1500</text>
<text x="409.80" y="194.20" font-size="7.5" fill="#2e2e2e" stroke="#2e2e2e" stroke-width="0.18" text-anchor="end">2000</text>
<text x="409.80" y="180.40" font-size="7.5" fill="#2e2e2e" stroke="#2e2e2e" stroke-width="0.18" text-anchor="end">2500</text>
<text x="409.80" y="166.60" font-size="7.5" fill="#2e2e2e" stroke="#2e2e2e" stroke-width="0.18" text-anchor="end">3000</text>
<text transform="translate(415.60 252.70) rotate(-45)" font-size="7.5" fill="#2e2e2e" stroke="#2e2e2e" stroke-width="0.18" text-anchor="end" dominant-baseline="central">0</text>
<text transform="translate(426.60 252.70) rotate(-45)" font-size="7.5" fill="#2e2e2e" stroke="#2e2e2e" stroke-width="0.18" text-anchor="end" dominant-baseline="central">20</text>
<text transform="translate(437.60 252.70) rotate(-45)" font-size="7.5" fill="#2e2e2e" stroke="#2e2e2e" stroke-width="0.18" text-anchor="end" dominant-baseline="central">40</text>
<text transform="translate(448.60 252.70) rotate(-45)" font-size="7.5" fill="#2e2e2e" stroke="#2e2e2e" stroke-width="0.18" text-anchor="end" dominant-baseline="central">60</text>
<text transform="translate(459.60 252.70) rotate(-45)" font-size="7.5" fill="#2e2e2e" stroke="#2e2e2e" stroke-width="0.18" text-anchor="end" dominant-baseline="central">80</text>
<text transform="translate(470.60 252.70) rotate(-45)" font-size="7.5" fill="#2e2e2e" stroke="#2e2e2e" stroke-width="0.18" text-anchor="end" dominant-baseline="central">100</text>
<text transform="translate(481.60 252.70) rotate(-45)" font-size="7.5" fill="#2e2e2e" stroke="#2e2e2e" stroke-width="0.18" text-anchor="end" dominant-baseline="central">120</text>
<text transform="translate(492.60 252.70) rotate(-45)" font-size="7.5" fill="#2e2e2e" stroke="#2e2e2e" stroke-width="0.18" text-anchor="end" dominant-baseline="central">140</text>
<text transform="translate(503.60 252.70) rotate(-45)" font-size="7.5" fill="#2e2e2e" stroke="#2e2e2e" stroke-width="0.18" text-anchor="end" dominant-baseline="central">160</text>
<text transform="translate(514.60 252.70) rotate(-45)" font-size="7.5" fill="#2e2e2e" stroke="#2e2e2e" stroke-width="0.18" text-anchor="end" dominant-baseline="central">180</text>
<text transform="translate(525.60 252.70) rotate(-45)" font-size="7.5" fill="#2e2e2e" stroke="#2e2e2e" stroke-width="0.18" text-anchor="end" dominant-baseline="central">200</text>
<text transform="translate(536.60 252.70) rotate(-45)" font-size="7.5" fill="#2e2e2e" stroke="#2e2e2e" stroke-width="0.18" text-anchor="end" dominant-baseline="central">220</text>
<text transform="translate(547.60 252.70) rotate(-45)" font-size="7.5" fill="#2e2e2e" stroke="#2e2e2e" stroke-width="0.18" text-anchor="end" dominant-baseline="central">240</text>
<text x="478.40" y="272.30" font-size="7.8" font-weight="bold" text-anchor="middle" fill="#1a1a1a">Time(s)</text>
<text transform="translate(390.40 205.60) rotate(-90)" font-size="7.8" font-weight="bold" text-anchor="middle" fill="#1a1a1a">Fire Area (m<tspan font-size="5.6" dy="-3">2</tspan><tspan dy="3">)</tspan></text>
<path d="M412.40 194.56 L413.51 194.22 L414.62 193.87 L415.73 193.51 L416.84 193.14 L417.95 192.75 L419.06 192.35 L420.17 191.94 L421.28 191.52 L422.39 191.09 L423.50 190.65 L424.61 190.19 L425.72 189.72 L426.83 189.25 L427.94 188.76 L429.05 188.25 L430.16 187.74 L431.27 187.21 L432.38 186.68 L433.49 186.13 L434.60 185.57 L435.71 184.99 L436.83 184.41 L437.94 183.81 L439.05 183.21 L440.16 182.59 L441.27 181.96 L442.38 181.31 L443.49 180.66 L444.60 179.99 L474.60 230.49 L479.28 247.00" fill="none" stroke="#F7931E" stroke-width="1.7" stroke-linejoin="round"/>
<path d="M412.40 233.42 L413.54 233.06 L414.67 232.68 L415.81 232.29 L416.94 231.90 L418.08 231.49 L419.22 231.07 L420.35 230.64 L421.49 230.20 L422.63 229.75 L423.76 229.29 L424.90 228.82 L426.03 228.34 L427.17 227.85 L428.31 227.34 L429.44 226.83 L430.58 226.30 L431.71 225.77 L432.85 225.22 L433.99 224.67 L435.12 224.10 L436.26 223.52 L437.40 222.94 L438.53 222.34 L439.67 221.73 L440.80 221.11 L455.31 247.00 L455.81 247.00" fill="none" stroke="#1E96D8" stroke-width="1.7" stroke-linejoin="round"/>
<path d="M412.40 211.95 L413.50 211.61 L414.61 211.26 L415.71 210.89 L416.81 210.51 L417.92 210.12 L419.02 209.72 L420.12 209.30 L421.22 208.88 L422.33 208.43 L423.43 207.98 L424.53 207.51 L425.64 207.04 L426.74 206.54 L427.84 206.04 L428.95 205.52 L430.05 204.99 L431.15 204.45 L432.25 203.90 L433.36 203.33 L434.46 202.75 L435.56 202.16 L436.67 201.55 L437.77 200.93 L438.87 200.30 L439.98 199.66 L441.08 199.00 L445.42 205.09 L456.30 247.00" fill="none" stroke="#3DAA3A" stroke-width="1.7" stroke-linejoin="round"/>
<path d="M412.40 227.27 L413.52 226.93 L414.64 226.59 L415.76 226.23 L416.87 225.86 L417.99 225.47 L419.11 225.07 L420.23 224.66 L421.35 224.23 L422.47 223.79 L423.58 223.33 L424.70 222.86 L425.82 222.38 L426.94 221.88 L428.06 221.37 L429.18 220.85 L430.30 220.31 L431.41 219.76 L432.53 219.20 L433.65 218.62 L434.77 218.03 L435.89 217.42 L437.01 216.80 L438.12 216.17 L439.24 215.52 L440.36 214.86 L441.48 214.19 L442.60 213.50 L443.72 212.80 L447.18 218.89 L455.81 247.00 L544.40 247.00" fill="none" stroke="#FFBF00" stroke-width="1.7" stroke-linejoin="round"/>
<path d="M78.50 282.20V364.40H210.50" fill="none" stroke="#9c9c9c" stroke-width="1"/>
<path d="M78.50 350.70h1.4 M78.50 337.00h1.4 M78.50 323.30h1.4 M78.50 309.60h1.4 M78.50 295.90h1.4 M78.50 282.20h1.4 M89.50 364.40v-1.4 M100.50 364.40v-1.4 M111.50 364.40v-1.4 M122.50 364.40v-1.4 M133.50 364.40v-1.4 M144.50 364.40v-1.4 M155.50 364.40v-1.4 M166.50 364.40v-1.4 M177.50 364.40v-1.4 M188.50 364.40v-1.4 M199.50 364.40v-1.4 M210.50 364.40v-1.4" fill="none" stroke="#9c9c9c" stroke-width="0.8"/>
<text x="75.90" y="366.80" font-size="7.5" fill="#2e2e2e" stroke="#2e2e2e" stroke-width="0.18" text-anchor="end">0</text>
<text x="75.90" y="353.10" font-size="7.5" fill="#2e2e2e" stroke="#2e2e2e" stroke-width="0.18" text-anchor="end">500</text>
<text x="75.90" y="339.40" font-size="7.5" fill="#2e2e2e" stroke="#2e2e2e" stroke-width="0.18" text-anchor="end">1000</text>
<text x="75.90" y="325.70" font-size="7.5" fill="#2e2e2e" stroke="#2e2e2e" stroke-width="0.18" text-anchor="end">1500</text>
<text x="75.90" y="312.00" font-size="7.5" fill="#2e2e2e" stroke="#2e2e2e" stroke-width="0.18" text-anchor="end">2000</text>
<text x="75.90" y="298.30" font-size="7.5" fill="#2e2e2e" stroke="#2e2e2e" stroke-width="0.18" text-anchor="end">2500</text>
<text x="75.90" y="284.60" font-size="7.5" fill="#2e2e2e" stroke="#2e2e2e" stroke-width="0.18" text-anchor="end">3000</text>
<text transform="translate(81.70 370.70) rotate(-45)" font-size="7.5" fill="#2e2e2e" stroke="#2e2e2e" stroke-width="0.18" text-anchor="end" dominant-baseline="central">0</text>
<text transform="translate(92.70 370.70) rotate(-45)" font-size="7.5" fill="#2e2e2e" stroke="#2e2e2e" stroke-width="0.18" text-anchor="end" dominant-baseline="central">20</text>
<text transform="translate(103.70 370.70) rotate(-45)" font-size="7.5" fill="#2e2e2e" stroke="#2e2e2e" stroke-width="0.18" text-anchor="end" dominant-baseline="central">40</text>
<text transform="translate(114.70 370.70) rotate(-45)" font-size="7.5" fill="#2e2e2e" stroke="#2e2e2e" stroke-width="0.18" text-anchor="end" dominant-baseline="central">60</text>
<text transform="translate(125.70 370.70) rotate(-45)" font-size="7.5" fill="#2e2e2e" stroke="#2e2e2e" stroke-width="0.18" text-anchor="end" dominant-baseline="central">80</text>
<text transform="translate(136.70 370.70) rotate(-45)" font-size="7.5" fill="#2e2e2e" stroke="#2e2e2e" stroke-width="0.18" text-anchor="end" dominant-baseline="central">100</text>
<text transform="translate(147.70 370.70) rotate(-45)" font-size="7.5" fill="#2e2e2e" stroke="#2e2e2e" stroke-width="0.18" text-anchor="end" dominant-baseline="central">120</text>
<text transform="translate(158.70 370.70) rotate(-45)" font-size="7.5" fill="#2e2e2e" stroke="#2e2e2e" stroke-width="0.18" text-anchor="end" dominant-baseline="central">140</text>
<text transform="translate(169.70 370.70) rotate(-45)" font-size="7.5" fill="#2e2e2e" stroke="#2e2e2e" stroke-width="0.18" text-anchor="end" dominant-baseline="central">160</text>
<text transform="translate(180.70 370.70) rotate(-45)" font-size="7.5" fill="#2e2e2e" stroke="#2e2e2e" stroke-width="0.18" text-anchor="end" dominant-baseline="central">180</text>
<text transform="translate(191.70 370.70) rotate(-45)" font-size="7.5" fill="#2e2e2e" stroke="#2e2e2e" stroke-width="0.18" text-anchor="end" dominant-baseline="central">200</text>
<text transform="translate(202.70 370.70) rotate(-45)" font-size="7.5" fill="#2e2e2e" stroke="#2e2e2e" stroke-width="0.18" text-anchor="end" dominant-baseline="central">220</text>
<text transform="translate(213.70 370.70) rotate(-45)" font-size="7.5" fill="#2e2e2e" stroke="#2e2e2e" stroke-width="0.18" text-anchor="end" dominant-baseline="central">240</text>
<text x="144.50" y="389.50" font-size="7.8" font-weight="bold" text-anchor="middle" fill="#1a1a1a">Time(s)</text>
<text transform="translate(56.50 323.30) rotate(-90)" font-size="7.8" font-weight="bold" text-anchor="middle" fill="#1a1a1a">Fire Area (m<tspan font-size="5.6" dy="-3">2</tspan><tspan dy="3">)</tspan></text>
<path d="M78.50 312.34 L79.62 311.99 L80.73 311.63 L81.85 311.26 L82.97 310.88 L84.09 310.48 L85.20 310.08 L86.32 309.66 L87.44 309.23 L88.55 308.79 L89.67 308.33 L90.79 307.87 L91.91 307.39 L93.02 306.90 L94.14 306.40 L95.26 305.89 L96.38 305.36 L97.49 304.83 L98.61 304.28 L99.73 303.72 L100.84 303.15 L101.96 302.56 L103.08 301.97 L104.20 301.36 L105.31 300.74 L106.43 300.11 L107.55 299.47 L108.66 298.82 L109.78 298.15 L110.90 297.48 L112.02 296.79 L129.60 325.29 L139.99 324.01 L154.22 320.10 L156.42 322.20 L167.31 320.10 L172.80 329.11 L177.20 343.80 L182.42 352.51 L210.50 346.28" fill="none" stroke="#F7931E" stroke-width="1.7" stroke-linejoin="round"/>
<path d="M78.50 350.92 L79.62 350.55 L80.74 350.18 L81.86 349.79 L82.98 349.40 L84.10 348.99 L85.22 348.57 L86.34 348.15 L87.46 347.71 L88.58 347.26 L89.70 346.80 L90.82 346.34 L91.94 345.86 L93.06 345.37 L94.18 344.87 L95.30 344.36 L96.42 343.84 L97.54 343.31 L98.66 342.78 L99.78 342.23 L100.90 341.67 L102.02 341.10 L103.14 340.52 L104.26 339.92 L105.38 339.32 L106.50 338.71 L107.62 338.09 L123.01 364.40 L128.72 364.40" fill="none" stroke="#1E96D8" stroke-width="1.7" stroke-linejoin="round"/>
<path d="M78.50 329.60 L79.62 329.28 L80.73 328.95 L81.85 328.60 L82.97 328.24 L84.09 327.87 L85.20 327.49 L86.32 327.09 L87.44 326.68 L88.55 326.26 L89.67 325.82 L90.79 325.37 L91.91 324.91 L93.02 324.44 L94.14 323.95 L95.26 323.45 L96.38 322.94 L97.49 322.41 L98.61 321.87 L99.73 321.32 L100.84 320.75 L101.96 320.18 L103.08 319.58 L104.20 318.98 L105.31 318.36 L106.43 317.74 L107.55 317.09 L108.66 316.44 L109.78 315.77 L110.90 315.09 L112.02 314.40 L127.79 339.51 L128.72 343.01 L129.60 345.49 L141.03 364.40" fill="none" stroke="#3DAA3A" stroke-width="1.7" stroke-linejoin="round"/>
<path d="M78.50 344.81 L79.63 344.50 L80.75 344.17 L81.88 343.84 L83.01 343.48 L84.13 343.12 L85.26 342.74 L86.38 342.35 L87.51 341.94 L88.64 341.52 L89.76 341.08 L90.89 340.63 L92.02 340.17 L93.14 339.70 L94.27 339.21 L95.40 338.70 L96.52 338.18 L97.65 337.65 L98.77 337.11 L99.90 336.55 L101.03 335.98 L102.15 335.39 L103.28 334.79 L104.41 334.18 L105.53 333.55 L106.66 332.91 L107.79 332.25 L108.91 331.58 L110.04 330.90 L111.16 330.20 L112.29 329.49 L125.32 351.61 L128.72 364.40 L210.50 364.40" fill="none" stroke="#FFBF00" stroke-width="1.7" stroke-linejoin="round"/>
<path d="M246.30 283.10V364.50H377.80" fill="none" stroke="#9c9c9c" stroke-width="1"/>
<path d="M246.30 350.93h1.4 M246.30 337.37h1.4 M246.30 323.80h1.4 M246.30 310.23h1.4 M246.30 296.67h1.4 M246.30 283.10h1.4 M257.26 364.50v-1.4 M268.22 364.50v-1.4 M279.18 364.50v-1.4 M290.13 364.50v-1.4 M301.09 364.50v-1.4 M312.05 364.50v-1.4 M323.01 364.50v-1.4 M333.97 364.50v-1.4 M344.93 364.50v-1.4 M355.88 364.50v-1.4 M366.84 364.50v-1.4 M377.80 364.50v-1.4" fill="none" stroke="#9c9c9c" stroke-width="0.8"/>
<text x="243.70" y="366.90" font-size="7.5" fill="#2e2e2e" stroke="#2e2e2e" stroke-width="0.18" text-anchor="end">0</text>
<text x="243.70" y="353.33" font-size="7.5" fill="#2e2e2e" stroke="#2e2e2e" stroke-width="0.18" text-anchor="end">500</text>
<text x="243.70" y="339.77" font-size="7.5" fill="#2e2e2e" stroke="#2e2e2e" stroke-width="0.18" text-anchor="end">1000</text>
<text x="243.70" y="326.20" font-size="7.5" fill="#2e2e2e" stroke="#2e2e2e" stroke-width="0.18" text-anchor="end">1500</text>
<text x="243.70" y="312.63" font-size="7.5" fill="#2e2e2e" stroke="#2e2e2e" stroke-width="0.18" text-anchor="end">2000</text>
<text x="243.70" y="299.07" font-size="7.5" fill="#2e2e2e" stroke="#2e2e2e" stroke-width="0.18" text-anchor="end">2500</text>
<text x="243.70" y="285.50" font-size="7.5" fill="#2e2e2e" stroke="#2e2e2e" stroke-width="0.18" text-anchor="end">3000</text>
<text transform="translate(249.50 370.80) rotate(-45)" font-size="7.5" fill="#2e2e2e" stroke="#2e2e2e" stroke-width="0.18" text-anchor="end" dominant-baseline="central">0</text>
<text transform="translate(260.46 370.80) rotate(-45)" font-size="7.5" fill="#2e2e2e" stroke="#2e2e2e" stroke-width="0.18" text-anchor="end" dominant-baseline="central">20</text>
<text transform="translate(271.42 370.80) rotate(-45)" font-size="7.5" fill="#2e2e2e" stroke="#2e2e2e" stroke-width="0.18" text-anchor="end" dominant-baseline="central">40</text>
<text transform="translate(282.38 370.80) rotate(-45)" font-size="7.5" fill="#2e2e2e" stroke="#2e2e2e" stroke-width="0.18" text-anchor="end" dominant-baseline="central">60</text>
<text transform="translate(293.33 370.80) rotate(-45)" font-size="7.5" fill="#2e2e2e" stroke="#2e2e2e" stroke-width="0.18" text-anchor="end" dominant-baseline="central">80</text>
<text transform="translate(304.29 370.80) rotate(-45)" font-size="7.5" fill="#2e2e2e" stroke="#2e2e2e" stroke-width="0.18" text-anchor="end" dominant-baseline="central">100</text>
<text transform="translate(315.25 370.80) rotate(-45)" font-size="7.5" fill="#2e2e2e" stroke="#2e2e2e" stroke-width="0.18" text-anchor="end" dominant-baseline="central">120</text>
<text transform="translate(326.21 370.80) rotate(-45)" font-size="7.5" fill="#2e2e2e" stroke="#2e2e2e" stroke-width="0.18" text-anchor="end" dominant-baseline="central">140</text>
<text transform="translate(337.17 370.80) rotate(-45)" font-size="7.5" fill="#2e2e2e" stroke="#2e2e2e" stroke-width="0.18" text-anchor="end" dominant-baseline="central">160</text>
<text transform="translate(348.12 370.80) rotate(-45)" font-size="7.5" fill="#2e2e2e" stroke="#2e2e2e" stroke-width="0.18" text-anchor="end" dominant-baseline="central">180</text>
<text transform="translate(359.08 370.80) rotate(-45)" font-size="7.5" fill="#2e2e2e" stroke="#2e2e2e" stroke-width="0.18" text-anchor="end" dominant-baseline="central">200</text>
<text transform="translate(370.04 370.80) rotate(-45)" font-size="7.5" fill="#2e2e2e" stroke="#2e2e2e" stroke-width="0.18" text-anchor="end" dominant-baseline="central">220</text>
<text transform="translate(381.00 370.80) rotate(-45)" font-size="7.5" fill="#2e2e2e" stroke="#2e2e2e" stroke-width="0.18" text-anchor="end" dominant-baseline="central">240</text>
<text x="312.05" y="389.60" font-size="7.8" font-weight="bold" text-anchor="middle" fill="#1a1a1a">Time(s)</text>
<text transform="translate(224.30 323.80) rotate(-90)" font-size="7.8" font-weight="bold" text-anchor="middle" fill="#1a1a1a">Fire Area (m<tspan font-size="5.6" dy="-3">2</tspan><tspan dy="3">)</tspan></text>
<path d="M246.30 312.95 L247.42 312.60 L248.54 312.25 L249.67 311.88 L250.79 311.51 L251.91 311.12 L253.03 310.71 L254.15 310.30 L255.27 309.88 L256.40 309.44 L257.52 308.99 L258.64 308.53 L259.76 308.06 L260.88 307.57 L262.00 307.08 L263.13 306.57 L264.25 306.05 L265.37 305.52 L266.49 304.97 L267.61 304.42 L268.73 303.85 L269.86 303.27 L270.98 302.68 L272.10 302.08 L273.22 301.47 L274.34 300.84 L275.46 300.20 L276.59 299.55 L277.71 298.89 L295.01 327.01 L300.21 325.70 L314.01 348.11 L318.39 353.71 L321.78 356.79 L335.30 353.71 L341.71 364.50" fill="none" stroke="#F7931E" stroke-width="1.7" stroke-linejoin="round"/>
<path d="M246.30 351.15 L247.40 350.79 L248.49 350.41 L249.59 350.03 L250.69 349.63 L251.78 349.23 L252.88 348.82 L253.98 348.39 L255.07 347.96 L256.17 347.52 L257.26 347.06 L258.36 346.60 L259.46 346.13 L260.55 345.65 L261.65 345.16 L262.75 344.65 L263.84 344.14 L264.94 343.62 L266.04 343.09 L267.13 342.55 L268.23 342.00 L269.33 341.44 L270.42 340.87 L271.52 340.29 L272.61 339.70 L273.71 339.10 L288.82 364.50 L296.21 364.50" fill="none" stroke="#1E96D8" stroke-width="1.7" stroke-linejoin="round"/>
<path d="M246.30 330.04 L247.41 329.73 L248.51 329.40 L249.62 329.06 L250.73 328.70 L251.83 328.34 L252.94 327.96 L254.05 327.57 L255.15 327.16 L256.26 326.75 L257.37 326.32 L258.47 325.88 L259.58 325.42 L260.69 324.96 L261.79 324.48 L262.90 323.98 L264.01 323.48 L265.11 322.96 L266.22 322.43 L267.33 321.89 L268.44 321.34 L269.54 320.77 L270.65 320.19 L271.76 319.59 L272.86 318.99 L273.97 318.37 L275.08 317.74 L276.18 317.10 L277.29 316.44 L278.40 315.77 L279.50 315.09 L280.61 314.40 L310.50 364.50" fill="none" stroke="#3DAA3A" stroke-width="1.7" stroke-linejoin="round"/>
<path d="M246.30 345.10 L247.42 344.79 L248.54 344.47 L249.66 344.14 L250.78 343.80 L251.90 343.44 L253.02 343.06 L254.14 342.67 L255.26 342.27 L256.38 341.86 L257.50 341.43 L258.62 340.99 L259.74 340.53 L260.86 340.06 L261.98 339.58 L263.10 339.09 L264.22 338.58 L265.34 338.05 L266.46 337.52 L267.58 336.97 L268.70 336.40 L269.82 335.82 L270.94 335.23 L272.06 334.63 L273.18 334.01 L274.30 333.38 L275.42 332.73 L276.54 332.07 L277.66 331.40 L278.78 330.71 L279.90 330.01 L293.20 352.51 L296.21 364.50 L377.80 364.50" fill="none" stroke="#FFBF00" stroke-width="1.7" stroke-linejoin="round"/>
<path d="M412.50 282.30V364.80H544.40" fill="none" stroke="#9c9c9c" stroke-width="1"/>
<path d="M412.50 351.05h1.4 M412.50 337.30h1.4 M412.50 323.55h1.4 M412.50 309.80h1.4 M412.50 296.05h1.4 M412.50 282.30h1.4 M423.49 364.80v-1.4 M434.48 364.80v-1.4 M445.48 364.80v-1.4 M456.47 364.80v-1.4 M467.46 364.80v-1.4 M478.45 364.80v-1.4 M489.44 364.80v-1.4 M500.43 364.80v-1.4 M511.42 364.80v-1.4 M522.42 364.80v-1.4 M533.41 364.80v-1.4 M544.40 364.80v-1.4" fill="none" stroke="#9c9c9c" stroke-width="0.8"/>
<text x="409.90" y="367.20" font-size="7.5" fill="#2e2e2e" stroke="#2e2e2e" stroke-width="0.18" text-anchor="end">0</text>
<text x="409.90" y="353.45" font-size="7.5" fill="#2e2e2e" stroke="#2e2e2e" stroke-width="0.18" text-anchor="end">500</text>
<text x="409.90" y="339.70" font-size="7.5" fill="#2e2e2e" stroke="#2e2e2e" stroke-width="0.18" text-anchor="end">1000</text>
<text x="409.90" y="325.95" font-size="7.5" fill="#2e2e2e" stroke="#2e2e2e" stroke-width="0.18" text-anchor="end">1500</text>
<text x="409.90" y="312.20" font-size="7.5" fill="#2e2e2e" stroke="#2e2e2e" stroke-width="0.18" text-anchor="end">2000</text>
<text x="409.90" y="298.45" font-size="7.5" fill="#2e2e2e" stroke="#2e2e2e" stroke-width="0.18" text-anchor="end">2500</text>
<text x="409.90" y="284.70" font-size="7.5" fill="#2e2e2e" stroke="#2e2e2e" stroke-width="0.18" text-anchor="end">3000</text>
<text transform="translate(415.70 371.10) rotate(-45)" font-size="7.5" fill="#2e2e2e" stroke="#2e2e2e" stroke-width="0.18" text-anchor="end" dominant-baseline="central">0</text>
<text transform="translate(426.69 371.10) rotate(-45)" font-size="7.5" fill="#2e2e2e" stroke="#2e2e2e" stroke-width="0.18" text-anchor="end" dominant-baseline="central">20</text>
<text transform="translate(437.68 371.10) rotate(-45)" font-size="7.5" fill="#2e2e2e" stroke="#2e2e2e" stroke-width="0.18" text-anchor="end" dominant-baseline="central">40</text>
<text transform="translate(448.68 371.10) rotate(-45)" font-size="7.5" fill="#2e2e2e" stroke="#2e2e2e" stroke-width="0.18" text-anchor="end" dominant-baseline="central">60</text>
<text transform="translate(459.67 371.10) rotate(-45)" font-size="7.5" fill="#2e2e2e" stroke="#2e2e2e" stroke-width="0.18" text-anchor="end" dominant-baseline="central">80</text>
<text transform="translate(470.66 371.10) rotate(-45)" font-size="7.5" fill="#2e2e2e" stroke="#2e2e2e" stroke-width="0.18" text-anchor="end" dominant-baseline="central">100</text>
<text transform="translate(481.65 371.10) rotate(-45)" font-size="7.5" fill="#2e2e2e" stroke="#2e2e2e" stroke-width="0.18" text-anchor="end" dominant-baseline="central">120</text>
<text transform="translate(492.64 371.10) rotate(-45)" font-size="7.5" fill="#2e2e2e" stroke="#2e2e2e" stroke-width="0.18" text-anchor="end" dominant-baseline="central">140</text>
<text transform="translate(503.63 371.10) rotate(-45)" font-size="7.5" fill="#2e2e2e" stroke="#2e2e2e" stroke-width="0.18" text-anchor="end" dominant-baseline="central">160</text>
<text transform="translate(514.62 371.10) rotate(-45)" font-size="7.5" fill="#2e2e2e" stroke="#2e2e2e" stroke-width="0.18" text-anchor="end" dominant-baseline="central">180</text>
<text transform="translate(525.62 371.10) rotate(-45)" font-size="7.5" fill="#2e2e2e" stroke="#2e2e2e" stroke-width="0.18" text-anchor="end" dominant-baseline="central">200</text>
<text transform="translate(536.61 371.10) rotate(-45)" font-size="7.5" fill="#2e2e2e" stroke="#2e2e2e" stroke-width="0.18" text-anchor="end" dominant-baseline="central">220</text>
<text transform="translate(547.60 371.10) rotate(-45)" font-size="7.5" fill="#2e2e2e" stroke="#2e2e2e" stroke-width="0.18" text-anchor="end" dominant-baseline="central">240</text>
<text x="478.45" y="389.90" font-size="7.8" font-weight="bold" text-anchor="middle" fill="#1a1a1a">Time(s)</text>
<text transform="translate(390.50 323.55) rotate(-90)" font-size="7.8" font-weight="bold" text-anchor="middle" fill="#1a1a1a">Fire Area (m<tspan font-size="5.6" dy="-3">2</tspan><tspan dy="3">)</tspan></text>
<path d="M412.50 312.55 L413.62 312.20 L414.74 311.84 L415.86 311.46 L416.99 311.07 L418.11 310.68 L419.23 310.26 L420.35 309.84 L421.47 309.41 L422.59 308.96 L423.72 308.50 L424.84 308.03 L425.96 307.55 L427.08 307.06 L428.20 306.55 L429.32 306.03 L430.45 305.50 L431.57 304.96 L432.69 304.41 L433.81 303.84 L434.93 303.26 L436.05 302.68 L437.18 302.07 L438.30 301.46 L439.42 300.84 L440.54 300.20 L441.66 299.55 L442.78 298.89 L466.20 338.61 L473.62 364.80" fill="none" stroke="#F7931E" stroke-width="1.7" stroke-linejoin="round"/>
<path d="M412.50 351.27 L413.63 350.89 L414.75 350.49 L415.88 350.09 L417.01 349.67 L418.13 349.24 L419.26 348.81 L420.39 348.36 L421.51 347.90 L422.64 347.44 L423.77 346.96 L424.89 346.47 L426.02 345.97 L427.15 345.46 L428.27 344.94 L429.40 344.41 L430.53 343.87 L431.65 343.32 L432.78 342.76 L433.91 342.19 L435.03 341.61 L436.16 341.02 L437.29 340.41 L451.52 364.80" fill="none" stroke="#1E96D8" stroke-width="1.7" stroke-linejoin="round"/>
<path d="M412.50 329.88 L413.63 329.51 L414.77 329.13 L415.90 328.74 L417.03 328.33 L418.17 327.91 L419.30 327.48 L420.43 327.03 L421.57 326.57 L422.70 326.10 L423.84 325.61 L424.97 325.11 L426.10 324.60 L427.24 324.07 L428.37 323.53 L429.50 322.98 L430.64 322.41 L431.77 321.83 L432.90 321.24 L434.04 320.63 L435.17 320.01 L436.30 319.38 L437.44 318.73 L438.57 318.07 L439.71 317.40 L449.38 332.60 L454.87 351.61 L457.51 360.20 L460.10 364.80" fill="none" stroke="#3DAA3A" stroke-width="1.7" stroke-linejoin="round"/>
<path d="M412.50 345.14 L413.63 344.78 L414.76 344.41 L415.89 344.02 L417.02 343.63 L418.15 343.21 L419.28 342.79 L420.41 342.35 L421.54 341.89 L422.67 341.42 L423.80 340.94 L424.93 340.44 L426.06 339.93 L427.19 339.41 L428.32 338.87 L429.45 338.32 L430.58 337.75 L431.71 337.17 L432.84 336.58 L433.98 335.97 L435.11 335.35 L436.24 334.71 L437.37 334.06 L438.50 333.40 L442.78 340.41 L450.59 364.80 L544.40 364.80" fill="none" stroke="#FFBF00" stroke-width="1.7" stroke-linejoin="round"/>
<path d="M78.40 397.20V480.50H210.50" fill="none" stroke="#9c9c9c" stroke-width="1"/>
<path d="M78.40 466.62h1.4 M78.40 452.73h1.4 M78.40 438.85h1.4 M78.40 424.97h1.4 M78.40 411.08h1.4 M78.40 397.20h1.4 M89.41 480.50v-1.4 M100.42 480.50v-1.4 M111.43 480.50v-1.4 M122.43 480.50v-1.4 M133.44 480.50v-1.4 M144.45 480.50v-1.4 M155.46 480.50v-1.4 M166.47 480.50v-1.4 M177.48 480.50v-1.4 M188.48 480.50v-1.4 M199.49 480.50v-1.4 M210.50 480.50v-1.4" fill="none" stroke="#9c9c9c" stroke-width="0.8"/>
<text x="75.80" y="482.90" font-size="7.5" fill="#2e2e2e" stroke="#2e2e2e" stroke-width="0.18" text-anchor="end">0</text>
<text x="75.80" y="469.02" font-size="7.5" fill="#2e2e2e" stroke="#2e2e2e" stroke-width="0.18" text-anchor="end">500</text>
<text x="75.80" y="455.13" font-size="7.5" fill="#2e2e2e" stroke="#2e2e2e" stroke-width="0.18" text-anchor="end">1000</text>
<text x="75.80" y="441.25" font-size="7.5" fill="#2e2e2e" stroke="#2e2e2e" stroke-width="0.18" text-anchor="end">1500</text>
<text x="75.80" y="427.37" font-size="7.5" fill="#2e2e2e" stroke="#2e2e2e" stroke-width="0.18" text-anchor="end">2000</text>
<text x="75.80" y="413.48" font-size="7.5" fill="#2e2e2e" stroke="#2e2e2e" stroke-width="0.18" text-anchor="end">2500</text>
<text x="75.80" y="399.60" font-size="7.5" fill="#2e2e2e" stroke="#2e2e2e" stroke-width="0.18" text-anchor="end">3000</text>
<text transform="translate(81.60 486.70) rotate(-45)" font-size="7.5" fill="#2e2e2e" stroke="#2e2e2e" stroke-width="0.18" text-anchor="end" dominant-baseline="central">0</text>
<text transform="translate(92.61 486.70) rotate(-45)" font-size="7.5" fill="#2e2e2e" stroke="#2e2e2e" stroke-width="0.18" text-anchor="end" dominant-baseline="central">20</text>
<text transform="translate(103.62 486.70) rotate(-45)" font-size="7.5" fill="#2e2e2e" stroke="#2e2e2e" stroke-width="0.18" text-anchor="end" dominant-baseline="central">40</text>
<text transform="translate(114.63 486.70) rotate(-45)" font-size="7.5" fill="#2e2e2e" stroke="#2e2e2e" stroke-width="0.18" text-anchor="end" dominant-baseline="central">60</text>
<text transform="translate(125.63 486.70) rotate(-45)" font-size="7.5" fill="#2e2e2e" stroke="#2e2e2e" stroke-width="0.18" text-anchor="end" dominant-baseline="central">80</text>
<text transform="translate(136.64 486.70) rotate(-45)" font-size="7.5" fill="#2e2e2e" stroke="#2e2e2e" stroke-width="0.18" text-anchor="end" dominant-baseline="central">100</text>
<text transform="translate(147.65 486.70) rotate(-45)" font-size="7.5" fill="#2e2e2e" stroke="#2e2e2e" stroke-width="0.18" text-anchor="end" dominant-baseline="central">120</text>
<text transform="translate(158.66 486.70) rotate(-45)" font-size="7.5" fill="#2e2e2e" stroke="#2e2e2e" stroke-width="0.18" text-anchor="end" dominant-baseline="central">140</text>
<text transform="translate(169.67 486.70) rotate(-45)" font-size="7.5" fill="#2e2e2e" stroke="#2e2e2e" stroke-width="0.18" text-anchor="end" dominant-baseline="central">160</text>
<text transform="translate(180.68 486.70) rotate(-45)" font-size="7.5" fill="#2e2e2e" stroke="#2e2e2e" stroke-width="0.18" text-anchor="end" dominant-baseline="central">180</text>
<text transform="translate(191.68 486.70) rotate(-45)" font-size="7.5" fill="#2e2e2e" stroke="#2e2e2e" stroke-width="0.18" text-anchor="end" dominant-baseline="central">200</text>
<text transform="translate(202.69 486.70) rotate(-45)" font-size="7.5" fill="#2e2e2e" stroke="#2e2e2e" stroke-width="0.18" text-anchor="end" dominant-baseline="central">220</text>
<text transform="translate(213.70 486.70) rotate(-45)" font-size="7.5" fill="#2e2e2e" stroke="#2e2e2e" stroke-width="0.18" text-anchor="end" dominant-baseline="central">240</text>
<text x="144.45" y="505.80" font-size="7.8" font-weight="bold" text-anchor="middle" fill="#1a1a1a">Time(s)</text>
<text transform="translate(56.40 438.85) rotate(-90)" font-size="7.8" font-weight="bold" text-anchor="middle" fill="#1a1a1a">Fire Area (m<tspan font-size="5.6" dy="-3">2</tspan><tspan dy="3">)</tspan></text>
<path d="M78.40 427.74 L79.55 427.34 L80.70 426.93 L81.85 426.50 L83.00 426.06 L84.15 425.61 L85.30 425.15 L86.46 424.67 L87.61 424.18 L88.76 423.68 L89.91 423.16 L91.06 422.64 L92.21 422.10 L93.36 421.54 L94.51 420.98 L95.66 420.40 L96.81 419.81 L97.96 419.21 L99.11 418.59 L100.26 417.96 L101.42 417.32 L102.57 416.67 L103.72 416.00 L121.30 444.60 L136.80 441.49 L140.81 448.10 L148.62 446.69 L150.38 450.19 L162.52 471.79 L165.88 480.50" fill="none" stroke="#F7931E" stroke-width="1.7" stroke-linejoin="round"/>
<path d="M78.40 466.84 L79.50 466.43 L80.60 466.02 L81.70 465.59 L82.80 465.15 L83.91 464.71 L85.01 464.25 L86.11 463.78 L87.21 463.31 L88.31 462.82 L89.41 462.32 L90.51 461.82 L91.61 461.30 L92.71 460.78 L93.81 460.24 L94.92 459.69 L96.02 459.14 L97.12 458.57 L98.22 457.99 L99.32 457.41 L113.22 480.50 L120.92 480.50" fill="none" stroke="#1E96D8" stroke-width="1.7" stroke-linejoin="round"/>
<path d="M78.40 445.24 L79.52 444.89 L80.64 444.53 L81.75 444.16 L82.87 443.77 L83.99 443.38 L85.11 442.96 L86.23 442.54 L87.34 442.10 L88.46 441.65 L89.58 441.19 L90.70 440.71 L91.82 440.22 L92.94 439.72 L94.05 439.20 L95.17 438.67 L96.29 438.13 L97.41 437.58 L98.53 437.01 L99.64 436.43 L100.76 435.83 L101.88 435.23 L103.00 434.61 L104.12 433.97 L105.23 433.33 L106.35 432.67 L107.47 431.99 L108.59 431.31 L109.71 430.61 L121.80 450.99 L127.02 468.29 L133.89 480.50" fill="none" stroke="#3DAA3A" stroke-width="1.7" stroke-linejoin="round"/>
<path d="M78.40 460.65 L79.51 460.29 L80.62 459.92 L81.72 459.54 L82.83 459.15 L83.94 458.74 L85.05 458.32 L86.15 457.88 L87.26 457.43 L88.37 456.97 L89.48 456.49 L90.58 456.00 L91.69 455.50 L92.80 454.98 L93.91 454.45 L95.01 453.91 L96.12 453.35 L97.23 452.78 L98.34 452.20 L99.44 451.60 L100.55 450.99 L101.66 450.36 L102.77 449.73 L103.87 449.07 L104.98 448.41 L117.51 470.01 L120.92 480.50 L210.50 480.50" fill="none" stroke="#FFBF00" stroke-width="1.7" stroke-linejoin="round"/>
<path d="M247.10 397.50V480.30H378.00" fill="none" stroke="#9c9c9c" stroke-width="1"/>
<path d="M247.10 466.50h1.4 M247.10 452.70h1.4 M247.10 438.90h1.4 M247.10 425.10h1.4 M247.10 411.30h1.4 M247.10 397.50h1.4 M258.01 480.30v-1.4 M268.92 480.30v-1.4 M279.82 480.30v-1.4 M290.73 480.30v-1.4 M301.64 480.30v-1.4 M312.55 480.30v-1.4 M323.46 480.30v-1.4 M334.37 480.30v-1.4 M345.27 480.30v-1.4 M356.18 480.30v-1.4 M367.09 480.30v-1.4 M378.00 480.30v-1.4" fill="none" stroke="#9c9c9c" stroke-width="0.8"/>
<text x="244.50" y="482.70" font-size="7.5" fill="#2e2e2e" stroke="#2e2e2e" stroke-width="0.18" text-anchor="end">0</text>
<text x="244.50" y="468.90" font-size="7.5" fill="#2e2e2e" stroke="#2e2e2e" stroke-width="0.18" text-anchor="end">500</text>
<text x="244.50" y="455.10" font-size="7.5" fill="#2e2e2e" stroke="#2e2e2e" stroke-width="0.18" text-anchor="end">1000</text>
<text x="244.50" y="441.30" font-size="7.5" fill="#2e2e2e" stroke="#2e2e2e" stroke-width="0.18" text-anchor="end">1500</text>
<text x="244.50" y="427.50" font-size="7.5" fill="#2e2e2e" stroke="#2e2e2e" stroke-width="0.18" text-anchor="end">2000</text>
<text x="244.50" y="413.70" font-size="7.5" fill="#2e2e2e" stroke="#2e2e2e" stroke-width="0.18" text-anchor="end">2500</text>
<text x="244.50" y="399.90" font-size="7.5" fill="#2e2e2e" stroke="#2e2e2e" stroke-width="0.18" text-anchor="end">3000</text>
<text transform="translate(250.30 486.50) rotate(-45)" font-size="7.5" fill="#2e2e2e" stroke="#2e2e2e" stroke-width="0.18" text-anchor="end" dominant-baseline="central">0</text>
<text transform="translate(261.21 486.50) rotate(-45)" font-size="7.5" fill="#2e2e2e" stroke="#2e2e2e" stroke-width="0.18" text-anchor="end" dominant-baseline="central">20</text>
<text transform="translate(272.12 486.50) rotate(-45)" font-size="7.5" fill="#2e2e2e" stroke="#2e2e2e" stroke-width="0.18" text-anchor="end" dominant-baseline="central">40</text>
<text transform="translate(283.02 486.50) rotate(-45)" font-size="7.5" fill="#2e2e2e" stroke="#2e2e2e" stroke-width="0.18" text-anchor="end" dominant-baseline="central">60</text>
<text transform="translate(293.93 486.50) rotate(-45)" font-size="7.5" fill="#2e2e2e" stroke="#2e2e2e" stroke-width="0.18" text-anchor="end" dominant-baseline="central">80</text>
<text transform="translate(304.84 486.50) rotate(-45)" font-size="7.5" fill="#2e2e2e" stroke="#2e2e2e" stroke-width="0.18" text-anchor="end" dominant-baseline="central">100</text>
<text transform="translate(315.75 486.50) rotate(-45)" font-size="7.5" fill="#2e2e2e" stroke="#2e2e2e" stroke-width="0.18" text-anchor="end" dominant-baseline="central">120</text>
<text transform="translate(326.66 486.50) rotate(-45)" font-size="7.5" fill="#2e2e2e" stroke="#2e2e2e" stroke-width="0.18" text-anchor="end" dominant-baseline="central">140</text>
<text transform="translate(337.57 486.50) rotate(-45)" font-size="7.5" fill="#2e2e2e" stroke="#2e2e2e" stroke-width="0.18" text-anchor="end" dominant-baseline="central">160</text>
<text transform="translate(348.47 486.50) rotate(-45)" font-size="7.5" fill="#2e2e2e" stroke="#2e2e2e" stroke-width="0.18" text-anchor="end" dominant-baseline="central">180</text>
<text transform="translate(359.38 486.50) rotate(-45)" font-size="7.5" fill="#2e2e2e" stroke="#2e2e2e" stroke-width="0.18" text-anchor="end" dominant-baseline="central">200</text>
<text transform="translate(370.29 486.50) rotate(-45)" font-size="7.5" fill="#2e2e2e" stroke="#2e2e2e" stroke-width="0.18" text-anchor="end" dominant-baseline="central">220</text>
<text transform="translate(381.20 486.50) rotate(-45)" font-size="7.5" fill="#2e2e2e" stroke="#2e2e2e" stroke-width="0.18" text-anchor="end" dominant-baseline="central">240</text>
<text x="312.55" y="505.60" font-size="7.8" font-weight="bold" text-anchor="middle" fill="#1a1a1a">Time(s)</text>
<text transform="translate(225.10 438.90) rotate(-90)" font-size="7.8" font-weight="bold" text-anchor="middle" fill="#1a1a1a">Fire Area (m<tspan font-size="5.6" dy="-3">2</tspan><tspan dy="3">)</tspan></text>
<path d="M247.10 427.86 L248.23 427.48 L249.35 427.09 L250.48 426.68 L251.61 426.26 L252.73 425.83 L253.86 425.39 L254.98 424.94 L256.11 424.47 L257.24 423.99 L258.36 423.50 L259.49 423.00 L260.62 422.48 L261.74 421.95 L262.87 421.41 L263.99 420.86 L265.12 420.30 L266.25 419.72 L267.37 419.13 L268.50 418.53 L269.63 417.92 L270.75 417.29 L271.88 416.65 L273.00 416.00 L289.79 443.80 L292.41 444.99 L313.08 480.30" fill="none" stroke="#F7931E" stroke-width="1.7" stroke-linejoin="round"/>
<path d="M247.10 466.72 L248.24 466.32 L249.38 465.90 L250.52 465.48 L251.66 465.04 L252.80 464.60 L253.94 464.14 L255.08 463.67 L256.22 463.19 L257.35 462.70 L258.49 462.20 L259.63 461.69 L260.77 461.17 L261.91 460.64 L263.05 460.09 L264.19 459.54 L265.33 458.97 L266.47 458.40 L267.61 457.81 L268.75 457.21 L269.89 456.60 L284.10 480.30 L289.79 480.30" fill="none" stroke="#1E96D8" stroke-width="1.7" stroke-linejoin="round"/>
<path d="M247.10 445.25 L248.23 444.90 L249.36 444.53 L250.49 444.15 L251.62 443.76 L252.75 443.35 L253.89 442.93 L255.02 442.50 L256.15 442.05 L257.28 441.59 L258.41 441.12 L259.54 440.63 L260.67 440.13 L261.80 439.61 L262.93 439.08 L264.06 438.54 L265.19 437.99 L266.33 437.42 L267.46 436.84 L268.59 436.24 L269.72 435.63 L270.85 435.01 L271.98 434.37 L273.11 433.72 L274.24 433.06 L275.37 432.38 L276.50 431.69 L291.48 457.10 L293.29 462.29 L302.80 480.30" fill="none" stroke="#3DAA3A" stroke-width="1.7" stroke-linejoin="round"/>
<path d="M247.10 460.57 L248.23 460.22 L249.36 459.87 L250.49 459.49 L251.62 459.11 L252.75 458.71 L253.88 458.29 L255.01 457.87 L256.14 457.42 L257.27 456.97 L258.39 456.49 L259.52 456.01 L260.65 455.51 L261.78 455.00 L262.91 454.47 L264.04 453.93 L265.17 453.37 L266.30 452.80 L267.43 452.22 L268.56 451.62 L269.69 451.00 L270.82 450.38 L271.95 449.73 L273.08 449.08 L274.21 448.41 L286.29 469.21 L289.79 480.30 L378.00 480.30" fill="none" stroke="#FFBF00" stroke-width="1.7" stroke-linejoin="round"/>
<path d="M412.40 397.00V480.30H544.40" fill="none" stroke="#9c9c9c" stroke-width="1"/>
<path d="M412.40 466.42h1.4 M412.40 452.53h1.4 M412.40 438.65h1.4 M412.40 424.77h1.4 M412.40 410.88h1.4 M412.40 397.00h1.4 M423.40 480.30v-1.4 M434.40 480.30v-1.4 M445.40 480.30v-1.4 M456.40 480.30v-1.4 M467.40 480.30v-1.4 M478.40 480.30v-1.4 M489.40 480.30v-1.4 M500.40 480.30v-1.4 M511.40 480.30v-1.4 M522.40 480.30v-1.4 M533.40 480.30v-1.4 M544.40 480.30v-1.4" fill="none" stroke="#9c9c9c" stroke-width="0.8"/>
<text x="409.80" y="482.70" font-size="7.5" fill="#2e2e2e" stroke="#2e2e2e" stroke-width="0.18" text-anchor="end">0</text>
<text x="409.80" y="468.82" font-size="7.5" fill="#2e2e2e" stroke="#2e2e2e" stroke-width="0.18" text-anchor="end">500</text>
<text x="409.80" y="454.93" font-size="7.5" fill="#2e2e2e" stroke="#2e2e2e" stroke-width="0.18" text-anchor="end">1000</text>
<text x="409.80" y="441.05" font-size="7.5" fill="#2e2e2e" stroke="#2e2e2e" stroke-width="0.18" text-anchor="end">1500</text>
<text x="409.80" y="427.17" font-size="7.5" fill="#2e2e2e" stroke="#2e2e2e" stroke-width="0.18" text-anchor="end">2000</text>
<text x="409.80" y="413.28" font-size="7.5" fill="#2e2e2e" stroke="#2e2e2e" stroke-width="0.18" text-anchor="end">2500</text>
<text x="409.80" y="399.40" font-size="7.5" fill="#2e2e2e" stroke="#2e2e2e" stroke-width="0.18" text-anchor="end">3000</text>
<text transform="translate(415.60 486.50) rotate(-45)" font-size="7.5" fill="#2e2e2e" stroke="#2e2e2e" stroke-width="0.18" text-anchor="end" dominant-baseline="central">0</text>
<text transform="translate(426.60 486.50) rotate(-45)" font-size="7.5" fill="#2e2e2e" stroke="#2e2e2e" stroke-width="0.18" text-anchor="end" dominant-baseline="central">20</text>
<text transform="translate(437.60 486.50) rotate(-45)" font-size="7.5" fill="#2e2e2e" stroke="#2e2e2e" stroke-width="0.18" text-anchor="end" dominant-baseline="central">40</text>
<text transform="translate(448.60 486.50) rotate(-45)" font-size="7.5" fill="#2e2e2e" stroke="#2e2e2e" stroke-width="0.18" text-anchor="end" dominant-baseline="central">60</text>
<text transform="translate(459.60 486.50) rotate(-45)" font-size="7.5" fill="#2e2e2e" stroke="#2e2e2e" stroke-width="0.18" text-anchor="end" dominant-baseline="central">80</text>
<text transform="translate(470.60 486.50) rotate(-45)" font-size="7.5" fill="#2e2e2e" stroke="#2e2e2e" stroke-width="0.18" text-anchor="end" dominant-baseline="central">100</text>
<text transform="translate(481.60 486.50) rotate(-45)" font-size="7.5" fill="#2e2e2e" stroke="#2e2e2e" stroke-width="0.18" text-anchor="end" dominant-baseline="central">120</text>
<text transform="translate(492.60 486.50) rotate(-45)" font-size="7.5" fill="#2e2e2e" stroke="#2e2e2e" stroke-width="0.18" text-anchor="end" dominant-baseline="central">140</text>
<text transform="translate(503.60 486.50) rotate(-45)" font-size="7.5" fill="#2e2e2e" stroke="#2e2e2e" stroke-width="0.18" text-anchor="end" dominant-baseline="central">160</text>
<text transform="translate(514.60 486.50) rotate(-45)" font-size="7.5" fill="#2e2e2e" stroke="#2e2e2e" stroke-width="0.18" text-anchor="end" dominant-baseline="central">180</text>
<text transform="translate(525.60 486.50) rotate(-45)" font-size="7.5" fill="#2e2e2e" stroke="#2e2e2e" stroke-width="0.18" text-anchor="end" dominant-baseline="central">200</text>
<text transform="translate(536.60 486.50) rotate(-45)" font-size="7.5" fill="#2e2e2e" stroke="#2e2e2e" stroke-width="0.18" text-anchor="end" dominant-baseline="central">220</text>
<text transform="translate(547.60 486.50) rotate(-45)" font-size="7.5" fill="#2e2e2e" stroke="#2e2e2e" stroke-width="0.18" text-anchor="end" dominant-baseline="central">240</text>
<text x="478.40" y="505.60" font-size="7.8" font-weight="bold" text-anchor="middle" fill="#1a1a1a">Time(s)</text>
<path d="M412.40 427.54 L413.54 427.17 L414.67 426.77 L415.81 426.37 L416.94 425.96 L418.08 425.53 L419.22 425.09 L420.35 424.64 L421.49 424.17 L422.63 423.70 L423.76 423.21 L424.90 422.71 L426.03 422.19 L427.17 421.67 L428.31 421.13 L429.44 420.58 L430.58 420.01 L431.71 419.44 L432.85 418.85 L433.99 418.25 L435.12 417.64 L436.26 417.01 L437.40 416.38 L438.53 415.73 L439.67 415.06 L440.80 414.39 L456.69 439.80 L461.52 450.19 L469.60 480.30" fill="none" stroke="#F7931E" stroke-width="1.7" stroke-linejoin="round"/>
<path d="M412.40 466.64 L413.56 466.20 L414.72 465.76 L415.88 465.30 L417.04 464.83 L418.20 464.35 L419.36 463.86 L420.52 463.36 L421.68 462.84 L422.84 462.32 L424.00 461.78 L425.16 461.24 L426.32 460.68 L427.48 460.11 L428.64 459.53 L429.80 458.94 L430.96 458.34 L432.12 457.73 L433.27 457.10 L446.30 480.30" fill="none" stroke="#1E96D8" stroke-width="1.7" stroke-linejoin="round"/>
<path d="M412.40 445.04 L413.51 444.65 L414.63 444.25 L415.74 443.84 L416.85 443.42 L417.97 442.98 L419.08 442.53 L420.19 442.06 L421.30 441.59 L422.42 441.10 L423.53 440.60 L424.64 440.08 L425.76 439.55 L426.87 439.01 L427.98 438.46 L429.10 437.89 L430.21 437.31 L431.32 436.72 L432.44 436.11 L433.55 435.49 L434.66 434.86 L435.78 434.21 L436.89 433.56 L438.00 432.89 L445.81 445.80 L450.59 463.10 L456.30 480.30" fill="none" stroke="#3DAA3A" stroke-width="1.7" stroke-linejoin="round"/>
<path d="M412.40 460.45 L413.52 460.10 L414.64 459.73 L415.76 459.35 L416.88 458.96 L418.00 458.56 L419.12 458.14 L420.24 457.70 L421.36 457.26 L422.48 456.80 L423.60 456.32 L424.72 455.83 L425.84 455.33 L426.96 454.81 L428.08 454.28 L429.19 453.74 L430.31 453.18 L431.43 452.61 L432.55 452.02 L433.67 451.43 L434.79 450.81 L435.91 450.19 L444.60 480.30 L544.40 480.30" fill="none" stroke="#FFBF00" stroke-width="1.7" stroke-linejoin="round"/>
<rect x="493.4" y="50.4" width="30.5" height="43.0" fill="#fff" stroke="#a0a0a0" stroke-width="0.8"/>
<path d="M494.8 56.3H505.4" stroke="#F7931E" stroke-width="1.5"/>
<text x="506.4" y="58.9" font-size="7.7" font-weight="bold" fill="#1a1a1a">fire1</text>
<path d="M494.8 66.6H505.4" stroke="#1E96D8" stroke-width="1.5"/>
<text x="506.4" y="69.2" font-size="7.7" font-weight="bold" fill="#1a1a1a">fire2</text>
<path d="M494.8 77.0H505.4" stroke="#3DAA3A" stroke-width="1.5"/>
<text x="506.4" y="79.6" font-size="7.7" font-weight="bold" fill="#1a1a1a">fire3</text>
<path d="M494.8 87.4H505.4" stroke="#FFBF00" stroke-width="1.5"/>
<text x="506.4" y="90.0" font-size="7.7" font-weight="bold" fill="#1a1a1a">fire4</text>
</svg></body></html>
